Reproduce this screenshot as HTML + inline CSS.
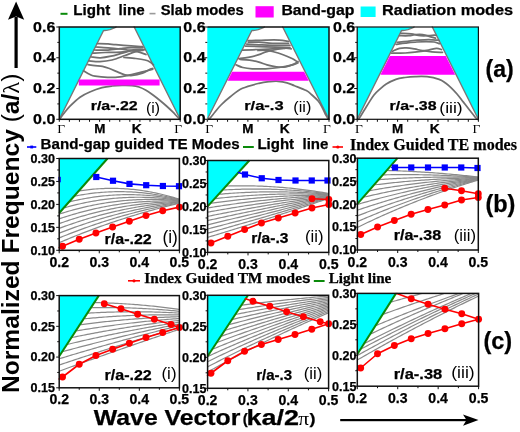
<!DOCTYPE html>
<html><head><meta charset="utf-8"><title>Band diagrams</title>
<style>
html,body{margin:0;padding:0;background:#fff;}
body{width:520px;height:432px;overflow:hidden;}
svg{display:block;}
</style></head><body>
<svg width="520" height="432" viewBox="0 0 520 432">
<rect x="0" y="0" width="520" height="432" fill="#fff"/>
<polygon points="59.30,27.00 59.30,119.30 103.55,30.48 104.83,30.45 106.11,30.34 107.38,30.15 108.66,29.89 109.94,29.56 111.22,29.16 112.49,28.69 113.77,28.15 115.05,27.54 116.07,27.00 59.30,27.00" fill="#00ffff" stroke="none" stroke-width="0"/>
<polygon points="134.21,27.00 180.20,119.30 180.20,27.00" fill="#00ffff" stroke="none" stroke-width="0"/>
<polygon points="207.30,27.00 207.30,119.30 251.85,30.48 253.13,30.45 254.42,30.34 255.70,30.15 256.99,29.89 258.27,29.56 259.56,29.16 260.85,28.69 262.13,28.15 263.42,27.54 264.45,27.00 207.30,27.00" fill="#00ffff" stroke="none" stroke-width="0"/>
<polygon points="282.71,27.00 329.00,119.30 329.00,27.00" fill="#00ffff" stroke="none" stroke-width="0"/>
<polygon points="357.20,27.00 357.20,119.30 401.56,30.48 402.84,30.45 404.12,30.34 405.40,30.15 406.68,29.89 407.97,29.56 409.25,29.16 410.53,28.69 411.81,28.15 413.09,27.54 414.11,27.00 357.20,27.00" fill="#00ffff" stroke="none" stroke-width="0"/>
<polygon points="432.30,27.00 478.40,119.30 478.40,27.00" fill="#00ffff" stroke="none" stroke-width="0"/>
<polyline points="59.30,119.30 103.55,30.48 104.83,30.45 106.11,30.34 107.38,30.15 108.66,29.89 109.94,29.56 111.22,29.16 112.49,28.69 113.77,28.15 115.05,27.54 116.07,27.00" fill="none" stroke="#777" stroke-width="1.4" stroke-linejoin="round" stroke-linecap="round"/>
<polyline points="134.21,27.00 180.20,119.30" fill="none" stroke="#777" stroke-width="1.4" stroke-linejoin="round" stroke-linecap="round"/>
<polyline points="207.30,119.30 251.85,30.48 253.13,30.45 254.42,30.34 255.70,30.15 256.99,29.89 258.27,29.56 259.56,29.16 260.85,28.69 262.13,28.15 263.42,27.54 264.45,27.00" fill="none" stroke="#777" stroke-width="1.4" stroke-linejoin="round" stroke-linecap="round"/>
<polyline points="282.71,27.00 329.00,119.30" fill="none" stroke="#777" stroke-width="1.4" stroke-linejoin="round" stroke-linecap="round"/>
<polyline points="357.20,119.30 401.56,30.48 402.84,30.45 404.12,30.34 405.40,30.15 406.68,29.89 407.97,29.56 409.25,29.16 410.53,28.69 411.81,28.15 413.09,27.54 414.11,27.00" fill="none" stroke="#777" stroke-width="1.4" stroke-linejoin="round" stroke-linecap="round"/>
<polyline points="432.30,27.00 478.40,119.30" fill="none" stroke="#777" stroke-width="1.4" stroke-linejoin="round" stroke-linecap="round"/>
<path d="M59.50,119.30 C60.18,118.38 61.85,115.98 63.60,113.80 C65.35,111.62 67.27,108.97 70.00,106.20 C72.73,103.43 76.70,99.57 80.00,97.20 C83.30,94.83 86.13,93.58 89.80,92.00 C93.47,90.42 98.30,88.70 102.00,87.70 C105.70,86.70 108.67,86.38 112.00,86.00 C115.33,85.62 118.67,85.47 122.00,85.40 C125.33,85.33 129.17,85.33 132.00,85.60 C134.83,85.87 136.67,86.23 139.00,87.00 C141.33,87.77 143.67,88.87 146.00,90.20 C148.33,91.53 150.67,93.28 153.00,95.00 C155.33,96.72 157.67,98.58 160.00,100.50 C162.33,102.42 164.83,104.55 167.00,106.50 C169.17,108.45 171.33,110.53 173.00,112.20 C174.67,113.87 175.83,115.32 177.00,116.50 C178.17,117.68 179.50,118.83 180.00,119.30" fill="none" stroke="#707070" stroke-width="1.75" stroke-linejoin="round" stroke-linecap="round"/>
<path d="M97.30,43.60 C99.08,43.65 104.92,43.72 108.00,43.90 C111.08,44.08 111.93,44.38 115.80,44.70 C119.67,45.02 127.10,45.50 131.20,45.80 C135.30,46.10 138.52,46.35 140.40,46.50 C142.28,46.65 142.15,46.67 142.50,46.70" fill="none" stroke="#707070" stroke-width="1.75" stroke-linejoin="round" stroke-linecap="round"/>
<path d="M95.80,47.00 C97.83,47.13 103.97,47.47 108.00,47.80 C112.03,48.13 116.17,48.55 120.00,49.00 C123.83,49.45 127.67,49.95 131.00,50.50 C134.33,51.05 137.50,51.63 140.00,52.30 C142.50,52.97 145.00,54.13 146.00,54.50" fill="none" stroke="#707070" stroke-width="1.75" stroke-linejoin="round" stroke-linecap="round"/>
<path d="M94.20,50.00 C96.50,50.02 103.63,50.33 108.00,50.10 C112.37,49.87 116.57,49.02 120.40,48.60 C124.23,48.18 127.23,47.77 131.00,47.60 C134.77,47.43 141.00,47.60 143.00,47.60" fill="none" stroke="#707070" stroke-width="1.75" stroke-linejoin="round" stroke-linecap="round"/>
<path d="M92.70,53.20 C94.75,53.08 101.12,52.63 105.00,52.50 C108.88,52.37 112.67,52.55 116.00,52.40 C119.33,52.25 122.50,51.97 125.00,51.60 C127.50,51.23 128.50,50.57 131.00,50.20 C133.50,49.83 137.67,49.47 140.00,49.40 C142.33,49.33 144.17,49.73 145.00,49.80" fill="none" stroke="#707070" stroke-width="1.75" stroke-linejoin="round" stroke-linecap="round"/>
<path d="M91.20,57.00 C92.73,57.13 97.10,57.93 100.40,57.80 C103.70,57.67 107.40,56.97 111.00,56.20 C114.60,55.43 118.67,54.08 122.00,53.20 C125.33,52.32 127.67,51.40 131.00,50.90 C134.33,50.40 140.17,50.32 142.00,50.20" fill="none" stroke="#707070" stroke-width="1.75" stroke-linejoin="round" stroke-linecap="round"/>
<path d="M88.80,60.80 C90.67,60.93 96.13,61.73 100.00,61.60 C103.87,61.47 107.83,61.02 112.00,60.00 C116.17,58.98 121.03,56.88 125.00,55.50 C128.97,54.12 132.80,52.57 135.80,51.70 C138.80,50.83 141.80,50.53 143.00,50.30" fill="none" stroke="#707070" stroke-width="1.75" stroke-linejoin="round" stroke-linecap="round"/>
<path d="M124.00,57.50 C125.97,57.67 132.30,58.08 135.80,58.50 C139.30,58.92 142.63,59.43 145.00,60.00 C147.37,60.57 148.58,61.07 150.00,61.90 C151.42,62.73 152.92,64.48 153.50,65.00" fill="none" stroke="#707070" stroke-width="1.75" stroke-linejoin="round" stroke-linecap="round"/>
<path d="M88.00,64.70 C89.17,64.85 92.58,65.33 95.00,65.60 C97.42,65.87 100.00,65.77 102.50,66.30 C105.00,66.83 107.50,67.87 110.00,68.80 C112.50,69.73 115.00,70.90 117.50,71.90 C120.00,72.90 122.50,74.20 125.00,74.80 C127.50,75.40 129.58,75.78 132.50,75.50 C135.42,75.22 139.58,74.12 142.50,73.10 C145.42,72.08 148.30,70.17 150.00,69.40 C151.70,68.63 152.25,68.65 152.70,68.50" fill="none" stroke="#707070" stroke-width="1.75" stroke-linejoin="round" stroke-linecap="round"/>
<path d="M83.50,70.80 C84.58,71.42 88.08,73.60 90.00,74.50 C91.92,75.40 92.08,75.72 95.00,76.20 C97.92,76.68 103.33,77.28 107.50,77.40 C111.67,77.52 115.83,77.40 120.00,76.90 C124.17,76.40 128.75,75.23 132.50,74.40 C136.25,73.57 139.58,72.63 142.50,71.90 C145.42,71.17 148.30,70.45 150.00,70.00 C151.70,69.55 152.25,69.33 152.70,69.20" fill="none" stroke="#707070" stroke-width="1.75" stroke-linejoin="round" stroke-linecap="round"/>
<path d="M208.00,119.30 C208.42,119.02 209.33,118.82 210.50,117.60 C211.67,116.38 213.25,114.10 215.00,112.00 C216.75,109.90 218.40,107.58 221.00,105.00 C223.60,102.42 227.02,99.28 230.60,96.50 C234.18,93.72 237.77,90.50 242.50,88.30 C247.23,86.10 254.42,84.42 259.00,83.30 C263.58,82.18 266.83,81.93 270.00,81.60 C273.17,81.27 275.17,81.10 278.00,81.30 C280.83,81.50 284.25,82.07 287.00,82.80 C289.75,83.53 291.28,84.40 294.50,85.70 C297.72,87.00 303.38,89.05 306.30,90.60 C309.22,92.15 310.02,93.27 312.00,95.00 C313.98,96.73 316.53,99.00 318.20,101.00 C319.87,103.00 320.82,104.83 322.00,107.00 C323.18,109.17 324.22,111.95 325.30,114.00 C326.38,116.05 327.97,118.42 328.50,119.30" fill="none" stroke="#707070" stroke-width="1.75" stroke-linejoin="round" stroke-linecap="round"/>
<path d="M248.20,40.70 C251.10,40.60 260.45,40.20 265.60,40.10 C270.75,40.00 275.28,39.88 279.10,40.10 C282.92,40.32 286.93,41.18 288.50,41.40" fill="none" stroke="#707070" stroke-width="1.75" stroke-linejoin="round" stroke-linecap="round"/>
<path d="M248.20,42.10 C249.98,42.10 254.87,41.88 258.90,42.10 C262.93,42.32 267.47,43.18 272.40,43.40 C277.33,43.62 285.82,43.40 288.50,43.40" fill="none" stroke="#707070" stroke-width="1.75" stroke-linejoin="round" stroke-linecap="round"/>
<path d="M246.80,44.10 C248.82,44.22 254.63,44.58 258.90,44.80 C263.17,45.02 267.23,45.30 272.40,45.40 C277.57,45.50 286.98,45.40 289.90,45.40" fill="none" stroke="#707070" stroke-width="1.75" stroke-linejoin="round" stroke-linecap="round"/>
<path d="M245.50,46.10 C248.85,46.22 258.20,46.57 265.60,46.80 C273.00,47.03 285.85,47.38 289.90,47.50" fill="none" stroke="#707070" stroke-width="1.75" stroke-linejoin="round" stroke-linecap="round"/>
<path d="M242.80,50.20 C245.48,50.08 253.97,49.73 258.90,49.50 C263.83,49.27 267.92,49.03 272.40,48.80 C276.88,48.57 282.67,48.10 285.80,48.10 C288.93,48.10 290.30,48.68 291.20,48.80" fill="none" stroke="#707070" stroke-width="1.75" stroke-linejoin="round" stroke-linecap="round"/>
<path d="M238.70,58.70 C240.28,58.48 244.83,58.07 248.20,57.40 C251.57,56.73 255.93,55.63 258.90,54.70 C261.87,53.77 263.08,52.67 266.00,51.80 C268.92,50.93 273.23,50.08 276.40,49.50 C279.57,48.92 283.57,48.50 285.00,48.30" fill="none" stroke="#707070" stroke-width="1.75" stroke-linejoin="round" stroke-linecap="round"/>
<path d="M258.00,50.50 C259.27,50.45 263.20,50.03 265.60,50.20 C268.00,50.37 269.48,50.75 272.40,51.50 C275.32,52.25 279.73,53.50 283.10,54.70 C286.47,55.90 290.35,57.58 292.60,58.70 C294.85,59.82 295.93,60.95 296.60,61.40" fill="none" stroke="#707070" stroke-width="1.75" stroke-linejoin="round" stroke-linecap="round"/>
<path d="M240.00,59.40 C241.58,59.52 246.35,59.65 249.50,60.10 C252.65,60.55 255.98,61.32 258.90,62.10 C261.82,62.88 264.08,64.02 267.00,64.80 C269.92,65.58 273.27,66.47 276.40,66.80 C279.53,67.13 282.88,67.25 285.80,66.80 C288.72,66.35 291.87,65.00 293.90,64.10 C295.93,63.20 297.32,61.85 298.00,61.40" fill="none" stroke="#707070" stroke-width="1.75" stroke-linejoin="round" stroke-linecap="round"/>
<path d="M236.00,64.80 C237.13,65.25 240.10,66.83 242.80,67.50 C245.50,68.17 248.40,68.58 252.20,68.80 C256.00,69.02 261.12,69.02 265.60,68.80 C270.08,68.58 274.60,68.17 279.10,67.50 C283.60,66.83 289.45,65.58 292.60,64.80 C295.75,64.02 297.10,63.13 298.00,62.80" fill="none" stroke="#707070" stroke-width="1.75" stroke-linejoin="round" stroke-linecap="round"/>
<path d="M358.50,119.30 C358.92,118.67 359.92,117.22 361.00,115.50 C362.08,113.78 363.60,111.27 365.00,109.00 C366.40,106.73 367.90,104.23 369.40,101.90 C370.90,99.57 372.40,97.00 374.00,95.00 C375.60,93.00 376.96,91.73 379.00,89.90 C381.04,88.07 383.43,85.77 386.25,84.00 C389.07,82.23 392.77,80.38 395.90,79.30 C399.02,78.22 401.80,77.95 405.00,77.50 C408.20,77.05 411.42,76.73 415.10,76.60 C418.78,76.47 423.10,76.25 427.10,76.70 C431.10,77.15 436.03,78.25 439.10,79.30 C442.17,80.35 443.48,81.58 445.50,83.00 C447.52,84.42 449.28,85.97 451.20,87.80 C453.12,89.63 455.00,91.65 457.00,94.00 C459.00,96.35 461.12,99.23 463.20,101.90 C465.28,104.57 467.50,107.45 469.50,110.00 C471.50,112.55 473.87,115.65 475.20,117.20 C476.53,118.75 477.12,118.95 477.50,119.30" fill="none" stroke="#707070" stroke-width="1.75" stroke-linejoin="round" stroke-linecap="round"/>
<path d="M400.70,33.30 C402.43,33.40 407.83,33.50 411.10,33.90 C414.37,34.30 417.42,35.40 420.30,35.70 C423.18,36.00 426.08,35.80 428.40,35.70 C430.72,35.60 432.93,35.17 434.20,35.10 C435.47,35.03 435.70,35.27 436.00,35.30" fill="none" stroke="#707070" stroke-width="1.75" stroke-linejoin="round" stroke-linecap="round"/>
<path d="M399.50,35.70 C401.05,35.70 406.10,35.90 408.80,35.70 C411.50,35.50 413.40,34.70 415.70,34.50 C418.00,34.30 420.10,34.12 422.60,34.50 C425.10,34.88 428.55,36.18 430.70,36.80 C432.85,37.42 434.70,37.97 435.50,38.20" fill="none" stroke="#707070" stroke-width="1.75" stroke-linejoin="round" stroke-linecap="round"/>
<path d="M397.20,42.40 C398.93,42.22 404.13,41.67 407.60,41.30 C411.07,40.93 414.53,40.48 418.00,40.20 C421.47,39.92 425.13,39.60 428.40,39.60 C431.67,39.60 435.83,40.05 437.60,40.20 C439.37,40.35 438.77,40.45 439.00,40.50" fill="none" stroke="#707070" stroke-width="1.75" stroke-linejoin="round" stroke-linecap="round"/>
<path d="M396.10,44.30 C397.63,44.12 401.85,43.58 405.30,43.20 C408.75,42.82 413.33,42.28 416.80,42.00 C420.27,41.72 423.20,41.50 426.10,41.50 C429.00,41.50 431.97,41.63 434.20,42.00 C436.43,42.37 438.62,43.42 439.50,43.70" fill="none" stroke="#707070" stroke-width="1.75" stroke-linejoin="round" stroke-linecap="round"/>
<path d="M392.60,51.20 C393.75,50.72 397.18,48.87 399.50,48.30 C401.82,47.73 404.00,47.70 406.50,47.80 C409.00,47.90 411.82,48.42 414.50,48.90 C417.18,49.38 419.72,50.22 422.60,50.70 C425.48,51.18 428.48,51.52 431.80,51.80 C435.12,52.08 440.72,52.30 442.50,52.40" fill="none" stroke="#707070" stroke-width="1.75" stroke-linejoin="round" stroke-linecap="round"/>
<path d="M391.50,53.00 C393.80,53.00 401.08,53.20 405.30,53.00 C409.52,52.80 412.95,52.28 416.80,51.80 C420.65,51.32 425.12,50.67 428.40,50.10 C431.68,49.53 434.32,48.50 436.50,48.40 C438.68,48.30 440.67,49.32 441.50,49.50" fill="none" stroke="#707070" stroke-width="1.75" stroke-linejoin="round" stroke-linecap="round"/>
<rect x="78.80" y="79.50" width="80.80" height="6.00" fill="#ff00ff"/>
<polygon points="232.17,71.70 304.13,71.70 308.69,80.80 227.61,80.80" fill="#ff00ff" stroke="none" stroke-width="0"/>
<polygon points="389.82,56.00 445.78,56.00 455.17,74.80 380.43,74.80" fill="#ff00ff" stroke="none" stroke-width="0"/>
<rect x="59.30" y="27.00" width="120.90" height="92.30" fill="none" stroke="#111" stroke-width="1.5"/>
<line x1="56.30" y1="119.30" x2="59.30" y2="119.30" stroke="#111" stroke-width="1"/>
<line x1="57.30" y1="103.92" x2="59.30" y2="103.92" stroke="#111" stroke-width="1"/>
<line x1="56.30" y1="88.53" x2="59.30" y2="88.53" stroke="#111" stroke-width="1"/>
<line x1="57.30" y1="73.15" x2="59.30" y2="73.15" stroke="#111" stroke-width="1"/>
<line x1="56.30" y1="57.77" x2="59.30" y2="57.77" stroke="#111" stroke-width="1"/>
<line x1="57.30" y1="42.38" x2="59.30" y2="42.38" stroke="#111" stroke-width="1"/>
<line x1="56.30" y1="27.00" x2="59.30" y2="27.00" stroke="#111" stroke-width="1"/>
<line x1="59.30" y1="119.30" x2="59.30" y2="121.80" stroke="#111" stroke-width="1"/>
<line x1="69.38" y1="119.30" x2="69.38" y2="121.80" stroke="#111" stroke-width="1"/>
<line x1="79.45" y1="119.30" x2="79.45" y2="121.80" stroke="#111" stroke-width="1"/>
<line x1="89.52" y1="119.30" x2="89.52" y2="121.80" stroke="#111" stroke-width="1"/>
<line x1="99.60" y1="119.30" x2="99.60" y2="121.80" stroke="#111" stroke-width="1"/>
<line x1="109.67" y1="119.30" x2="109.67" y2="121.80" stroke="#111" stroke-width="1"/>
<line x1="119.75" y1="119.30" x2="119.75" y2="121.80" stroke="#111" stroke-width="1"/>
<line x1="129.82" y1="119.30" x2="129.82" y2="121.80" stroke="#111" stroke-width="1"/>
<line x1="139.90" y1="119.30" x2="139.90" y2="121.80" stroke="#111" stroke-width="1"/>
<line x1="149.97" y1="119.30" x2="149.97" y2="121.80" stroke="#111" stroke-width="1"/>
<line x1="160.05" y1="119.30" x2="160.05" y2="121.80" stroke="#111" stroke-width="1"/>
<line x1="170.12" y1="119.30" x2="170.12" y2="121.80" stroke="#111" stroke-width="1"/>
<line x1="180.20" y1="119.30" x2="180.20" y2="121.80" stroke="#111" stroke-width="1"/>
<path d="M207.30,27.00 H329.00 V119.30 H208.00" fill="none" stroke="#111" stroke-width="1.5"/>
<line x1="204.30" y1="119.30" x2="207.30" y2="119.30" stroke="#111" stroke-width="1"/>
<line x1="205.30" y1="103.92" x2="207.30" y2="103.92" stroke="#111" stroke-width="1"/>
<line x1="204.30" y1="88.53" x2="207.30" y2="88.53" stroke="#111" stroke-width="1"/>
<line x1="205.30" y1="73.15" x2="207.30" y2="73.15" stroke="#111" stroke-width="1"/>
<line x1="204.30" y1="57.77" x2="207.30" y2="57.77" stroke="#111" stroke-width="1"/>
<line x1="205.30" y1="42.38" x2="207.30" y2="42.38" stroke="#111" stroke-width="1"/>
<line x1="204.30" y1="27.00" x2="207.30" y2="27.00" stroke="#111" stroke-width="1"/>
<line x1="207.30" y1="119.30" x2="207.30" y2="121.80" stroke="#111" stroke-width="1"/>
<line x1="217.44" y1="119.30" x2="217.44" y2="121.80" stroke="#111" stroke-width="1"/>
<line x1="227.58" y1="119.30" x2="227.58" y2="121.80" stroke="#111" stroke-width="1"/>
<line x1="237.73" y1="119.30" x2="237.73" y2="121.80" stroke="#111" stroke-width="1"/>
<line x1="247.87" y1="119.30" x2="247.87" y2="121.80" stroke="#111" stroke-width="1"/>
<line x1="258.01" y1="119.30" x2="258.01" y2="121.80" stroke="#111" stroke-width="1"/>
<line x1="268.15" y1="119.30" x2="268.15" y2="121.80" stroke="#111" stroke-width="1"/>
<line x1="278.29" y1="119.30" x2="278.29" y2="121.80" stroke="#111" stroke-width="1"/>
<line x1="288.43" y1="119.30" x2="288.43" y2="121.80" stroke="#111" stroke-width="1"/>
<line x1="298.57" y1="119.30" x2="298.57" y2="121.80" stroke="#111" stroke-width="1"/>
<line x1="308.72" y1="119.30" x2="308.72" y2="121.80" stroke="#111" stroke-width="1"/>
<line x1="318.86" y1="119.30" x2="318.86" y2="121.80" stroke="#111" stroke-width="1"/>
<line x1="329.00" y1="119.30" x2="329.00" y2="121.80" stroke="#111" stroke-width="1"/>
<rect x="357.20" y="27.00" width="121.20" height="92.30" fill="none" stroke="#111" stroke-width="1.2"/>
<line x1="354.20" y1="119.30" x2="357.20" y2="119.30" stroke="#111" stroke-width="1"/>
<line x1="355.20" y1="103.92" x2="357.20" y2="103.92" stroke="#111" stroke-width="1"/>
<line x1="354.20" y1="88.53" x2="357.20" y2="88.53" stroke="#111" stroke-width="1"/>
<line x1="355.20" y1="73.15" x2="357.20" y2="73.15" stroke="#111" stroke-width="1"/>
<line x1="354.20" y1="57.77" x2="357.20" y2="57.77" stroke="#111" stroke-width="1"/>
<line x1="355.20" y1="42.38" x2="357.20" y2="42.38" stroke="#111" stroke-width="1"/>
<line x1="354.20" y1="27.00" x2="357.20" y2="27.00" stroke="#111" stroke-width="1"/>
<line x1="357.20" y1="119.30" x2="357.20" y2="121.80" stroke="#111" stroke-width="1"/>
<line x1="367.30" y1="119.30" x2="367.30" y2="121.80" stroke="#111" stroke-width="1"/>
<line x1="377.40" y1="119.30" x2="377.40" y2="121.80" stroke="#111" stroke-width="1"/>
<line x1="387.50" y1="119.30" x2="387.50" y2="121.80" stroke="#111" stroke-width="1"/>
<line x1="397.60" y1="119.30" x2="397.60" y2="121.80" stroke="#111" stroke-width="1"/>
<line x1="407.70" y1="119.30" x2="407.70" y2="121.80" stroke="#111" stroke-width="1"/>
<line x1="417.80" y1="119.30" x2="417.80" y2="121.80" stroke="#111" stroke-width="1"/>
<line x1="427.90" y1="119.30" x2="427.90" y2="121.80" stroke="#111" stroke-width="1"/>
<line x1="438.00" y1="119.30" x2="438.00" y2="121.80" stroke="#111" stroke-width="1"/>
<line x1="448.10" y1="119.30" x2="448.10" y2="121.80" stroke="#111" stroke-width="1"/>
<line x1="458.20" y1="119.30" x2="458.20" y2="121.80" stroke="#111" stroke-width="1"/>
<line x1="468.30" y1="119.30" x2="468.30" y2="121.80" stroke="#111" stroke-width="1"/>
<line x1="478.40" y1="119.30" x2="478.40" y2="121.80" stroke="#111" stroke-width="1"/>
<clipPath id="c384_0"><rect x="59.20" y="158.50" width="120.20" height="91.80"/></clipPath>
<clipPath id="c384_1"><rect x="207.60" y="160.50" width="121.20" height="91.90"/></clipPath>
<clipPath id="c384_2"><rect x="357.40" y="158.20" width="120.90" height="91.80"/></clipPath>
<clipPath id="c960_0"><rect x="59.20" y="295.60" width="120.20" height="92.20"/></clipPath>
<clipPath id="c960_1"><rect x="207.60" y="295.30" width="121.00" height="93.00"/></clipPath>
<clipPath id="c960_2"><rect x="357.30" y="293.40" width="121.30" height="92.80"/></clipPath>
<polygon points="59.20,158.50 59.20,213.00 107.50,158.50" fill="#00ffff" stroke="none" stroke-width="0"/>
<polygon points="59.20,295.60 59.20,356.30 98.80,295.60" fill="#00ffff" stroke="none" stroke-width="0"/>
<polygon points="207.60,160.50 207.60,206.30 249.30,160.50" fill="#00ffff" stroke="none" stroke-width="0"/>
<polygon points="207.60,295.30 207.60,356.30 248.00,295.30" fill="#00ffff" stroke="none" stroke-width="0"/>
<polygon points="357.40,158.20 357.40,203.80 397.50,158.20" fill="#00ffff" stroke="none" stroke-width="0"/>
<polygon points="357.30,293.40 357.30,354.30 396.00,293.40" fill="#00ffff" stroke="none" stroke-width="0"/>
<polyline points="79.23,190.91 81.24,190.61 83.24,190.32 85.24,190.06 87.25,189.81 89.25,189.59 91.25,189.38 93.26,189.19 95.26,189.02 97.26,188.87 99.27,188.74 101.27,188.63 103.27,188.54 105.28,188.47 107.28,188.42 109.28,188.38 111.29,188.37 113.29,188.37 115.29,188.40 117.30,188.44 119.30,188.50 121.30,188.58 123.31,188.68 125.31,188.80 127.31,188.94 129.32,189.10 131.32,189.28 133.32,189.47 135.33,189.69 137.33,189.92 139.33,190.18 141.34,190.45 143.34,190.74 145.34,191.06 147.35,191.39 149.35,191.74 151.35,192.11 153.36,192.50 155.36,192.90 157.36,193.33 159.37,193.78 161.37,194.24 163.37,194.73 165.38,195.23 167.38,195.76 169.38,196.30 171.39,196.86 173.39,197.44 175.39,198.04 177.40,198.66 179.40,199.30" fill="none" stroke="#8a8a8a" stroke-width="1.2" stroke-linejoin="round" stroke-linecap="round" clip-path="url(#c384_0)"/>
<polyline points="75.23,196.02 77.23,195.64 79.23,195.27 81.24,194.92 83.24,194.58 85.24,194.27 87.25,193.97 89.25,193.69 91.25,193.43 93.26,193.18 95.26,192.96 97.26,192.75 99.27,192.56 101.27,192.39 103.27,192.23 105.28,192.10 107.28,191.98 109.28,191.88 111.29,191.80 113.29,191.73 115.29,191.69 117.30,191.66 119.30,191.65 121.30,191.66 123.31,191.68 125.31,191.73 127.31,191.79 129.32,191.87 131.32,191.97 133.32,192.08 135.33,192.22 137.33,192.37 139.33,192.54 141.34,192.72 143.34,192.93 145.34,193.15 147.35,193.39 149.35,193.65 151.35,193.93 153.36,194.23 155.36,194.54 157.36,194.87 159.37,195.22 161.37,195.59 163.37,195.97 165.38,196.38 167.38,196.80 169.38,197.24 171.39,197.69 173.39,198.17 175.39,198.66 177.40,199.17 179.40,199.70" fill="none" stroke="#8a8a8a" stroke-width="1.2" stroke-linejoin="round" stroke-linecap="round" clip-path="url(#c384_0)"/>
<polyline points="69.22,201.87 71.22,201.39 73.22,200.92 75.23,200.47 77.23,200.04 79.23,199.62 81.24,199.22 83.24,198.84 85.24,198.47 87.25,198.12 89.25,197.79 91.25,197.47 93.26,197.17 95.26,196.89 97.26,196.63 99.27,196.38 101.27,196.14 103.27,195.93 105.28,195.73 107.28,195.54 109.28,195.38 111.29,195.23 113.29,195.10 115.29,194.98 117.30,194.88 119.30,194.80 121.30,194.73 123.31,194.69 125.31,194.65 127.31,194.64 129.32,194.64 131.32,194.66 133.32,194.69 135.33,194.74 137.33,194.81 139.33,194.90 141.34,195.00 143.34,195.12 145.34,195.25 147.35,195.40 149.35,195.57 151.35,195.76 153.36,195.96 155.36,196.18 157.36,196.41 159.37,196.66 161.37,196.93 163.37,197.22 165.38,197.52 167.38,197.84 169.38,198.17 171.39,198.52 173.39,198.89 175.39,199.28 177.40,199.68 179.40,200.10" fill="none" stroke="#8a8a8a" stroke-width="1.2" stroke-linejoin="round" stroke-linecap="round" clip-path="url(#c384_0)"/>
<polyline points="65.21,207.55 67.21,206.99 69.22,206.45 71.22,205.93 73.22,205.42 75.23,204.92 77.23,204.44 79.23,203.98 81.24,203.53 83.24,203.10 85.24,202.68 87.25,202.28 89.25,201.89 91.25,201.52 93.26,201.16 95.26,200.82 97.26,200.50 99.27,200.19 101.27,199.90 103.27,199.62 105.28,199.36 107.28,199.11 109.28,198.88 111.29,198.66 113.29,198.46 115.29,198.27 117.30,198.10 119.30,197.95 121.30,197.81 123.31,197.69 125.31,197.58 127.31,197.49 129.32,197.41 131.32,197.35 133.32,197.30 135.33,197.27 137.33,197.25 139.33,197.25 141.34,197.27 143.34,197.30 145.34,197.35 147.35,197.41 149.35,197.49 151.35,197.58 153.36,197.69 155.36,197.81 157.36,197.95 159.37,198.10 161.37,198.27 163.37,198.46 165.38,198.66 167.38,198.88 169.38,199.11 171.39,199.36 173.39,199.62 175.39,199.90 177.40,200.19 179.40,200.50" fill="none" stroke="#8a8a8a" stroke-width="1.2" stroke-linejoin="round" stroke-linecap="round" clip-path="url(#c384_0)"/>
<polyline points="59.20,214.08 61.20,213.44 63.21,212.82 65.21,212.21 67.21,211.61 69.22,211.03 71.22,210.46 73.22,209.91 75.23,209.37 77.23,208.84 79.23,208.33 81.24,207.84 83.24,207.35 85.24,206.89 87.25,206.43 89.25,205.99 91.25,205.57 93.26,205.16 95.26,204.76 97.26,204.38 99.27,204.01 101.27,203.65 103.27,203.31 105.28,202.99 107.28,202.67 109.28,202.38 111.29,202.09 113.29,201.82 115.29,201.57 117.30,201.33 119.30,201.10 121.30,200.89 123.31,200.69 125.31,200.50 127.31,200.33 129.32,200.18 131.32,200.04 133.32,199.91 135.33,199.80 137.33,199.70 139.33,199.61 141.34,199.54 143.34,199.49 145.34,199.44 147.35,199.42 149.35,199.40 151.35,199.40 153.36,199.42 155.36,199.45 157.36,199.49 159.37,199.55 161.37,199.62 163.37,199.70 165.38,199.80 167.38,199.92 169.38,200.05 171.39,200.19 173.39,200.34 175.39,200.52 177.40,200.70 179.40,200.90" fill="none" stroke="#8a8a8a" stroke-width="1.2" stroke-linejoin="round" stroke-linecap="round" clip-path="url(#c384_0)"/>
<polyline points="59.20,218.85 61.20,218.18 63.21,217.51 65.21,216.87 67.21,216.23 69.22,215.61 71.22,215.00 73.22,214.40 75.23,213.82 77.23,213.25 79.23,212.69 81.24,212.14 83.24,211.61 85.24,211.09 87.25,210.59 89.25,210.09 91.25,209.61 93.26,209.15 95.26,208.69 97.26,208.25 99.27,207.82 101.27,207.41 103.27,207.00 105.28,206.61 107.28,206.24 109.28,205.87 111.29,205.52 113.29,205.19 115.29,204.86 117.30,204.55 119.30,204.25 121.30,203.96 123.31,203.69 125.31,203.43 127.31,203.18 129.32,202.95 131.32,202.73 133.32,202.52 135.33,202.32 137.33,202.14 139.33,201.97 141.34,201.82 143.34,201.67 145.34,201.54 147.35,201.42 149.35,201.32 151.35,201.23 153.36,201.15 155.36,201.08 157.36,201.03 159.37,200.99 161.37,200.96 163.37,200.95 165.38,200.95 167.38,200.96 169.38,200.98 171.39,201.02 173.39,201.07 175.39,201.13 177.40,201.21 179.40,201.30" fill="none" stroke="#8a8a8a" stroke-width="1.2" stroke-linejoin="round" stroke-linecap="round" clip-path="url(#c384_0)"/>
<polyline points="59.20,223.62 61.20,222.91 63.21,222.21 65.21,221.52 67.21,220.85 69.22,220.19 71.22,219.53 73.22,218.89 75.23,218.27 77.23,217.65 79.23,217.04 81.24,216.45 83.24,215.87 85.24,215.30 87.25,214.74 89.25,214.19 91.25,213.66 93.26,213.14 95.26,212.63 97.26,212.13 99.27,211.64 101.27,211.16 103.27,210.70 105.28,210.24 107.28,209.80 109.28,209.37 111.29,208.95 113.29,208.55 115.29,208.15 117.30,207.77 119.30,207.40 121.30,207.04 123.31,206.69 125.31,206.36 127.31,206.03 129.32,205.72 131.32,205.42 133.32,205.13 135.33,204.85 137.33,204.59 139.33,204.33 141.34,204.09 143.34,203.86 145.34,203.64 147.35,203.43 149.35,203.23 151.35,203.05 153.36,202.88 155.36,202.72 157.36,202.57 159.37,202.43 161.37,202.31 163.37,202.19 165.38,202.09 167.38,202.00 169.38,201.92 171.39,201.85 173.39,201.80 175.39,201.75 177.40,201.72 179.40,201.70" fill="none" stroke="#8a8a8a" stroke-width="1.2" stroke-linejoin="round" stroke-linecap="round" clip-path="url(#c384_0)"/>
<polyline points="59.20,228.39 61.20,227.64 63.21,226.91 65.21,226.18 67.21,225.47 69.22,224.76 71.22,224.07 73.22,223.39 75.23,222.71 77.23,222.05 79.23,221.40 81.24,220.76 83.24,220.13 85.24,219.51 87.25,218.90 89.25,218.30 91.25,217.71 93.26,217.13 95.26,216.56 97.26,216.00 99.27,215.45 101.27,214.92 103.27,214.39 105.28,213.87 107.28,213.37 109.28,212.87 111.29,212.39 113.29,211.91 115.29,211.45 117.30,210.99 119.30,210.55 121.30,210.12 123.31,209.69 125.31,209.28 127.31,208.88 129.32,208.49 131.32,208.11 133.32,207.74 135.33,207.38 137.33,207.03 139.33,206.69 141.34,206.36 143.34,206.04 145.34,205.74 147.35,205.44 149.35,205.15 151.35,204.87 153.36,204.61 155.36,204.35 157.36,204.11 159.37,203.87 161.37,203.65 163.37,203.44 165.38,203.23 167.38,203.04 169.38,202.86 171.39,202.68 173.39,202.52 175.39,202.37 177.40,202.23 179.40,202.10" fill="none" stroke="#8a8a8a" stroke-width="1.2" stroke-linejoin="round" stroke-linecap="round" clip-path="url(#c384_0)"/>
<polyline points="59.20,233.16 61.20,232.38 63.21,231.61 65.21,230.84 67.21,230.09 69.22,229.34 71.22,228.61 73.22,227.88 75.23,227.16 77.23,226.45 79.23,225.76 81.24,225.07 83.24,224.38 85.24,223.71 87.25,223.05 89.25,222.40 91.25,221.75 93.26,221.12 95.26,220.49 97.26,219.88 99.27,219.27 101.27,218.67 103.27,218.08 105.28,217.50 107.28,216.93 109.28,216.37 111.29,215.82 113.29,215.27 115.29,214.74 117.30,214.22 119.30,213.70 121.30,213.19 123.31,212.70 125.31,212.21 127.31,211.73 129.32,211.26 131.32,210.80 133.32,210.35 135.33,209.91 137.33,209.47 139.33,209.05 141.34,208.63 143.34,208.23 145.34,207.83 147.35,207.45 149.35,207.07 151.35,206.70 153.36,206.34 155.36,205.99 157.36,205.65 159.37,205.32 161.37,204.99 163.37,204.68 165.38,204.37 167.38,204.08 169.38,203.79 171.39,203.52 173.39,203.25 175.39,202.99 177.40,202.74 179.40,202.50" fill="none" stroke="#8a8a8a" stroke-width="1.2" stroke-linejoin="round" stroke-linecap="round" clip-path="url(#c384_0)"/>
<polyline points="59.20,237.93 61.20,237.11 63.21,236.30 65.21,235.50 67.21,234.71 69.22,233.92 71.22,233.14 73.22,232.37 75.23,231.61 77.23,230.86 79.23,230.11 81.24,229.37 83.24,228.64 85.24,227.92 87.25,227.21 89.25,226.50 91.25,225.80 93.26,225.11 95.26,224.43 97.26,223.75 99.27,223.08 101.27,222.43 103.27,221.77 105.28,221.13 107.28,220.50 109.28,219.87 111.29,219.25 113.29,218.64 115.29,218.03 117.30,217.44 119.30,216.85 121.30,216.27 123.31,215.70 125.31,215.13 127.31,214.58 129.32,214.03 131.32,213.49 133.32,212.96 135.33,212.43 137.33,211.92 139.33,211.41 141.34,210.91 143.34,210.41 145.34,209.93 147.35,209.45 149.35,208.98 151.35,208.52 153.36,208.07 155.36,207.62 157.36,207.19 159.37,206.76 161.37,206.34 163.37,205.92 165.38,205.52 167.38,205.12 169.38,204.73 171.39,204.35 173.39,203.97 175.39,203.61 177.40,203.25 179.40,202.90" fill="none" stroke="#8a8a8a" stroke-width="1.2" stroke-linejoin="round" stroke-linecap="round" clip-path="url(#c384_0)"/>
<polyline points="59.20,242.70 61.20,241.85 63.21,241.00 65.21,240.16 67.21,239.33 69.22,238.50 71.22,237.68 73.22,236.87 75.23,236.06 77.23,235.26 79.23,234.47 81.24,233.68 83.24,232.90 85.24,232.13 87.25,231.36 89.25,230.60 91.25,229.85 93.26,229.10 95.26,228.36 97.26,227.63 99.27,226.90 101.27,226.18 103.27,225.47 105.28,224.76 107.28,224.06 109.28,223.37 111.29,222.68 113.29,222.00 115.29,221.33 117.30,220.66 119.30,220.00 121.30,219.35 123.31,218.70 125.31,218.06 127.31,217.43 129.32,216.80 131.32,216.18 133.32,215.57 135.33,214.96 137.33,214.36 139.33,213.77 141.34,213.18 143.34,212.60 145.34,212.03 147.35,211.46 149.35,210.90 151.35,210.35 153.36,209.80 155.36,209.26 157.36,208.73 159.37,208.20 161.37,207.68 163.37,207.17 165.38,206.66 167.38,206.16 169.38,205.67 171.39,205.18 173.39,204.70 175.39,204.23 177.40,203.76 179.40,203.30" fill="none" stroke="#8a8a8a" stroke-width="1.2" stroke-linejoin="round" stroke-linecap="round" clip-path="url(#c384_0)"/>
<polyline points="225.78,186.06 227.80,186.00 229.82,185.95 231.84,185.90 233.86,185.86 235.88,185.83 237.90,185.81 239.92,185.80 241.94,185.80 243.96,185.80 245.98,185.81 248.00,185.83 250.02,185.86 252.04,185.90 254.06,185.95 256.08,186.00 258.10,186.06 260.12,186.13 262.14,186.21 264.16,186.30 266.18,186.40 268.20,186.50 270.22,186.61 272.24,186.73 274.26,186.86 276.28,187.00 278.30,187.15 280.32,187.30 282.34,187.46 284.36,187.63 286.38,187.81 288.40,188.00 290.42,188.20 292.44,188.40 294.46,188.61 296.48,188.83 298.50,189.06 300.52,189.30 302.54,189.55 304.56,189.80 306.58,190.06 308.60,190.33 310.62,190.61 312.64,190.90 314.66,191.20 316.68,191.50 318.70,191.81 320.72,192.13 322.74,192.46 324.76,192.80 326.78,193.15 328.80,193.50" fill="none" stroke="#8a8a8a" stroke-width="1.2" stroke-linejoin="round" stroke-linecap="round" clip-path="url(#c384_1)"/>
<polyline points="223.76,190.00 225.78,189.88 227.80,189.77 229.82,189.67 231.84,189.58 233.86,189.49 235.88,189.41 237.90,189.34 239.92,189.28 241.94,189.22 243.96,189.17 245.98,189.13 248.00,189.10 250.02,189.07 252.04,189.05 254.06,189.04 256.08,189.04 258.10,189.04 260.12,189.05 262.14,189.07 264.16,189.10 266.18,189.13 268.20,189.17 270.22,189.22 272.24,189.28 274.26,189.34 276.28,189.41 278.30,189.49 280.32,189.58 282.34,189.67 284.36,189.77 286.38,189.88 288.40,190.00 290.42,190.12 292.44,190.25 294.46,190.39 296.48,190.54 298.50,190.69 300.52,190.85 302.54,191.02 304.56,191.20 306.58,191.38 308.60,191.57 310.62,191.77 312.64,191.98 314.66,192.19 316.68,192.41 318.70,192.64 320.72,192.88 322.74,193.12 324.76,193.37 326.78,193.63 328.80,193.90" fill="none" stroke="#8a8a8a" stroke-width="1.2" stroke-linejoin="round" stroke-linecap="round" clip-path="url(#c384_1)"/>
<polyline points="219.72,194.21 221.74,194.03 223.76,193.86 225.78,193.70 227.80,193.54 229.82,193.40 231.84,193.25 233.86,193.12 235.88,192.99 237.90,192.87 239.92,192.75 241.94,192.64 243.96,192.54 245.98,192.45 248.00,192.36 250.02,192.28 252.04,192.20 254.06,192.13 256.08,192.07 258.10,192.02 260.12,191.97 262.14,191.93 264.16,191.89 266.18,191.86 268.20,191.84 270.22,191.83 272.24,191.82 274.26,191.82 276.28,191.82 278.30,191.83 280.32,191.85 282.34,191.88 284.36,191.91 286.38,191.95 288.40,191.99 290.42,192.04 292.44,192.10 294.46,192.17 296.48,192.24 298.50,192.32 300.52,192.40 302.54,192.49 304.56,192.59 306.58,192.70 308.60,192.81 310.62,192.93 312.64,193.06 314.66,193.19 316.68,193.33 318.70,193.47 320.72,193.62 322.74,193.78 324.76,193.95 326.78,194.12 328.80,194.30" fill="none" stroke="#8a8a8a" stroke-width="1.2" stroke-linejoin="round" stroke-linecap="round" clip-path="url(#c384_1)"/>
<polyline points="215.68,198.62 217.70,198.38 219.72,198.16 221.74,197.94 223.76,197.73 225.78,197.52 227.80,197.32 229.82,197.12 231.84,196.93 233.86,196.75 235.88,196.57 237.90,196.40 239.92,196.23 241.94,196.07 243.96,195.91 245.98,195.76 248.00,195.62 250.02,195.48 252.04,195.35 254.06,195.23 256.08,195.11 258.10,194.99 260.12,194.88 262.14,194.78 264.16,194.69 266.18,194.59 268.20,194.51 270.22,194.43 272.24,194.36 274.26,194.29 276.28,194.23 278.30,194.17 280.32,194.13 282.34,194.08 284.36,194.04 286.38,194.01 288.40,193.99 290.42,193.97 292.44,193.95 294.46,193.94 296.48,193.94 298.50,193.94 300.52,193.95 302.54,193.97 304.56,193.99 306.58,194.02 308.60,194.05 310.62,194.09 312.64,194.13 314.66,194.18 316.68,194.24 318.70,194.30 320.72,194.37 322.74,194.44 324.76,194.52 326.78,194.61 328.80,194.70" fill="none" stroke="#8a8a8a" stroke-width="1.2" stroke-linejoin="round" stroke-linecap="round" clip-path="url(#c384_1)"/>
<polyline points="211.64,203.22 213.66,202.93 215.68,202.66 217.70,202.38 219.72,202.11 221.74,201.85 223.76,201.59 225.78,201.34 227.80,201.09 229.82,200.85 231.84,200.61 233.86,200.37 235.88,200.15 237.90,199.92 239.92,199.70 241.94,199.49 243.96,199.28 245.98,199.08 248.00,198.88 250.02,198.69 252.04,198.50 254.06,198.32 256.08,198.14 258.10,197.97 260.12,197.80 262.14,197.64 264.16,197.48 266.18,197.33 268.20,197.18 270.22,197.04 272.24,196.90 274.26,196.77 276.28,196.64 278.30,196.52 280.32,196.40 282.34,196.29 284.36,196.18 286.38,196.08 288.40,195.98 290.42,195.89 292.44,195.80 294.46,195.72 296.48,195.64 298.50,195.57 300.52,195.51 302.54,195.44 304.56,195.39 306.58,195.34 308.60,195.29 310.62,195.25 312.64,195.21 314.66,195.18 316.68,195.15 318.70,195.13 320.72,195.12 322.74,195.10 324.76,195.10 326.78,195.10 328.80,195.10" fill="none" stroke="#8a8a8a" stroke-width="1.2" stroke-linejoin="round" stroke-linecap="round" clip-path="url(#c384_1)"/>
<polyline points="207.60,208.00 209.62,207.67 211.64,207.34 213.66,207.01 215.68,206.69 217.70,206.38 219.72,206.07 221.74,205.76 223.76,205.46 225.78,205.16 227.80,204.86 229.82,204.57 231.84,204.28 233.86,204.00 235.88,203.72 237.90,203.45 239.92,203.18 241.94,202.92 243.96,202.65 245.98,202.40 248.00,202.14 250.02,201.90 252.04,201.65 254.06,201.41 256.08,201.18 258.10,200.94 260.12,200.72 262.14,200.49 264.16,200.28 266.18,200.06 268.20,199.85 270.22,199.64 272.24,199.44 274.26,199.24 276.28,199.05 278.30,198.86 280.32,198.68 282.34,198.50 284.36,198.32 286.38,198.15 288.40,197.98 290.42,197.81 292.44,197.65 294.46,197.50 296.48,197.35 298.50,197.20 300.52,197.06 302.54,196.92 304.56,196.78 306.58,196.65 308.60,196.53 310.62,196.41 312.64,196.29 314.66,196.18 316.68,196.07 318.70,195.96 320.72,195.86 322.74,195.76 324.76,195.67 326.78,195.58 328.80,195.50" fill="none" stroke="#8a8a8a" stroke-width="1.2" stroke-linejoin="round" stroke-linecap="round" clip-path="url(#c384_1)"/>
<polyline points="207.60,212.20 209.62,211.83 211.64,211.46 213.66,211.09 215.68,210.73 217.70,210.37 219.72,210.02 221.74,209.67 223.76,209.32 225.78,208.97 227.80,208.63 229.82,208.30 231.84,207.96 233.86,207.63 235.88,207.30 237.90,206.98 239.92,206.66 241.94,206.34 243.96,206.02 245.98,205.71 248.00,205.41 250.02,205.10 252.04,204.80 254.06,204.50 256.08,204.21 258.10,203.92 260.12,203.63 262.14,203.35 264.16,203.07 266.18,202.79 268.20,202.52 270.22,202.25 272.24,201.98 274.26,201.72 276.28,201.46 278.30,201.20 280.32,200.95 282.34,200.70 284.36,200.46 286.38,200.21 288.40,199.97 290.42,199.74 292.44,199.50 294.46,199.28 296.48,199.05 298.50,198.83 300.52,198.61 302.54,198.39 304.56,198.18 306.58,197.97 308.60,197.77 310.62,197.56 312.64,197.37 314.66,197.17 316.68,196.98 318.70,196.79 320.72,196.61 322.74,196.42 324.76,196.25 326.78,196.07 328.80,195.90" fill="none" stroke="#8a8a8a" stroke-width="1.2" stroke-linejoin="round" stroke-linecap="round" clip-path="url(#c384_1)"/>
<polyline points="207.60,216.40 209.62,215.99 211.64,215.58 213.66,215.17 215.68,214.77 217.70,214.37 219.72,213.97 221.74,213.58 223.76,213.18 225.78,212.79 227.80,212.41 229.82,212.02 231.84,211.64 233.86,211.26 235.88,210.88 237.90,210.50 239.92,210.13 241.94,209.76 243.96,209.40 245.98,209.03 248.00,208.67 250.02,208.31 252.04,207.95 254.06,207.60 256.08,207.25 258.10,206.90 260.12,206.55 262.14,206.21 264.16,205.87 266.18,205.53 268.20,205.19 270.22,204.86 272.24,204.53 274.26,204.20 276.28,203.87 278.30,203.55 280.32,203.23 282.34,202.91 284.36,202.59 286.38,202.28 288.40,201.97 290.42,201.66 292.44,201.36 294.46,201.05 296.48,200.75 298.50,200.45 300.52,200.16 302.54,199.87 304.56,199.58 306.58,199.29 308.60,199.01 310.62,198.72 312.64,198.44 314.66,198.17 316.68,197.89 318.70,197.62 320.72,197.35 322.74,197.08 324.76,196.82 326.78,196.56 328.80,196.30" fill="none" stroke="#8a8a8a" stroke-width="1.2" stroke-linejoin="round" stroke-linecap="round" clip-path="url(#c384_1)"/>
<polyline points="207.60,220.60 209.62,220.15 211.64,219.70 213.66,219.25 215.68,218.81 217.70,218.37 219.72,217.93 221.74,217.49 223.76,217.05 225.78,216.61 227.80,216.18 229.82,215.75 231.84,215.31 233.86,214.89 235.88,214.46 237.90,214.03 239.92,213.61 241.94,213.19 243.96,212.77 245.98,212.35 248.00,211.93 250.02,211.52 252.04,211.10 254.06,210.69 256.08,210.28 258.10,209.87 260.12,209.47 262.14,209.06 264.16,208.66 266.18,208.26 268.20,207.86 270.22,207.46 272.24,207.07 274.26,206.67 276.28,206.28 278.30,205.89 280.32,205.50 282.34,205.11 284.36,204.73 286.38,204.35 288.40,203.96 290.42,203.58 292.44,203.21 294.46,202.83 296.48,202.46 298.50,202.08 300.52,201.71 302.54,201.34 304.56,200.97 306.58,200.61 308.60,200.24 310.62,199.88 312.64,199.52 314.66,199.16 316.68,198.81 318.70,198.45 320.72,198.10 322.74,197.74 324.76,197.39 326.78,197.05 328.80,196.70" fill="none" stroke="#8a8a8a" stroke-width="1.2" stroke-linejoin="round" stroke-linecap="round" clip-path="url(#c384_1)"/>
<polyline points="207.60,224.80 209.62,224.31 211.64,223.82 213.66,223.34 215.68,222.85 217.70,222.36 219.72,221.88 221.74,221.40 223.76,220.91 225.78,220.43 227.80,219.95 229.82,219.47 231.84,218.99 233.86,218.51 235.88,218.04 237.90,217.56 239.92,217.08 241.94,216.61 243.96,216.14 245.98,215.66 248.00,215.19 250.02,214.72 252.04,214.25 254.06,213.78 256.08,213.32 258.10,212.85 260.12,212.38 262.14,211.92 264.16,211.46 266.18,210.99 268.20,210.53 270.22,210.07 272.24,209.61 274.26,209.15 276.28,208.69 278.30,208.23 280.32,207.78 282.34,207.32 284.36,206.87 286.38,206.41 288.40,205.96 290.42,205.51 292.44,205.06 294.46,204.61 296.48,204.16 298.50,203.71 300.52,203.26 302.54,202.82 304.56,202.37 306.58,201.93 308.60,201.48 310.62,201.04 312.64,200.60 314.66,200.16 316.68,199.72 318.70,199.28 320.72,198.84 322.74,198.41 324.76,197.97 326.78,197.53 328.80,197.10" fill="none" stroke="#8a8a8a" stroke-width="1.2" stroke-linejoin="round" stroke-linecap="round" clip-path="url(#c384_1)"/>
<polyline points="207.60,229.00 209.62,228.47 211.64,227.94 213.66,227.42 215.68,226.89 217.70,226.36 219.72,225.83 221.74,225.30 223.76,224.78 225.78,224.25 227.80,223.72 229.82,223.20 231.84,222.67 233.86,222.14 235.88,221.61 237.90,221.09 239.92,220.56 241.94,220.03 243.96,219.51 245.98,218.98 248.00,218.46 250.02,217.93 252.04,217.40 254.06,216.88 256.08,216.35 258.10,215.83 260.12,215.30 262.14,214.78 264.16,214.25 266.18,213.73 268.20,213.20 270.22,212.68 272.24,212.15 274.26,211.63 276.28,211.10 278.30,210.58 280.32,210.05 282.34,209.53 284.36,209.00 286.38,208.48 288.40,207.96 290.42,207.43 292.44,206.91 294.46,206.38 296.48,205.86 298.50,205.34 300.52,204.81 302.54,204.29 304.56,203.77 306.58,203.25 308.60,202.72 310.62,202.20 312.64,201.68 314.66,201.15 316.68,200.63 318.70,200.11 320.72,199.59 322.74,199.07 324.76,198.54 326.78,198.02 328.80,197.50" fill="none" stroke="#8a8a8a" stroke-width="1.2" stroke-linejoin="round" stroke-linecap="round" clip-path="url(#c384_1)"/>
<polyline points="207.60,233.20 209.62,232.63 211.64,232.06 213.66,231.50 215.68,230.93 217.70,230.36 219.72,229.79 221.74,229.21 223.76,228.64 225.78,228.07 227.80,227.49 229.82,226.92 231.84,226.34 233.86,225.77 235.88,225.19 237.90,224.62 239.92,224.04 241.94,223.46 243.96,222.88 245.98,222.30 248.00,221.72 250.02,221.14 252.04,220.55 254.06,219.97 256.08,219.39 258.10,218.80 260.12,218.22 262.14,217.63 264.16,217.05 266.18,216.46 268.20,215.87 270.22,215.28 272.24,214.69 274.26,214.10 276.28,213.51 278.30,212.92 280.32,212.33 282.34,211.73 284.36,211.14 286.38,210.55 288.40,209.95 290.42,209.36 292.44,208.76 294.46,208.16 296.48,207.56 298.50,206.96 300.52,206.37 302.54,205.77 304.56,205.16 306.58,204.56 308.60,203.96 310.62,203.36 312.64,202.75 314.66,202.15 316.68,201.55 318.70,200.94 320.72,200.33 322.74,199.73 324.76,199.12 326.78,198.51 328.80,197.90" fill="none" stroke="#8a8a8a" stroke-width="1.2" stroke-linejoin="round" stroke-linecap="round" clip-path="url(#c384_1)"/>
<polyline points="207.60,237.40 209.62,236.79 211.64,236.19 213.66,235.58 215.68,234.97 217.70,234.35 219.72,233.74 221.74,233.12 223.76,232.51 225.78,231.89 227.80,231.27 229.82,230.64 231.84,230.02 233.86,229.40 235.88,228.77 237.90,228.14 239.92,227.51 241.94,226.88 243.96,226.25 245.98,225.62 248.00,224.98 250.02,224.34 252.04,223.70 254.06,223.06 256.08,222.42 258.10,221.78 260.12,221.13 262.14,220.49 264.16,219.84 266.18,219.19 268.20,218.54 270.22,217.89 272.24,217.23 274.26,216.58 276.28,215.92 278.30,215.26 280.32,214.60 282.34,213.94 284.36,213.28 286.38,212.61 288.40,211.95 290.42,211.28 292.44,210.61 294.46,209.94 296.48,209.27 298.50,208.59 300.52,207.92 302.54,207.24 304.56,206.56 306.58,205.88 308.60,205.20 310.62,204.52 312.64,203.83 314.66,203.15 316.68,202.46 318.70,201.77 320.72,201.08 322.74,200.39 324.76,199.69 326.78,199.00 328.80,198.30" fill="none" stroke="#8a8a8a" stroke-width="1.2" stroke-linejoin="round" stroke-linecap="round" clip-path="url(#c384_1)"/>
<polyline points="387.62,170.48 389.64,170.54 391.65,170.60 393.67,170.67 395.69,170.75 397.70,170.82 399.71,170.90 401.73,170.99 403.75,171.08 405.76,171.17 407.77,171.26 409.79,171.36 411.81,171.47 413.82,171.57 415.83,171.69 417.85,171.80 419.87,171.92 421.88,172.04 423.89,172.17 425.91,172.30 427.93,172.43 429.94,172.57 431.95,172.71 433.97,172.85 435.99,173.00 438.00,173.16 440.01,173.31 442.03,173.47 444.05,173.64 446.06,173.80 448.07,173.98 450.09,174.15 452.11,174.33 454.12,174.51 456.13,174.70 458.15,174.89 460.17,175.08 462.18,175.28 464.19,175.48 466.21,175.69 468.23,175.90 470.24,176.11 472.25,176.33 474.27,176.55 476.29,176.77 478.30,177.00" fill="none" stroke="#8a8a8a" stroke-width="1.2" stroke-linejoin="round" stroke-linecap="round" clip-path="url(#c384_2)"/>
<polyline points="383.59,174.84 385.61,174.80 387.62,174.76 389.64,174.73 391.65,174.70 393.67,174.68 395.69,174.66 397.70,174.64 399.71,174.63 401.73,174.62 403.75,174.62 405.76,174.62 407.77,174.62 409.79,174.63 411.81,174.64 413.82,174.66 415.83,174.68 417.85,174.70 419.87,174.73 421.88,174.76 423.89,174.80 425.91,174.84 427.93,174.88 429.94,174.93 431.95,174.98 433.97,175.04 435.99,175.10 438.00,175.16 440.01,175.23 442.03,175.30 444.05,175.38 446.06,175.46 448.07,175.55 450.09,175.63 452.11,175.73 454.12,175.82 456.13,175.92 458.15,176.03 460.17,176.14 462.18,176.25 464.19,176.37 466.21,176.49 468.23,176.61 470.24,176.74 472.25,176.88 474.27,177.01 476.29,177.15 478.30,177.30" fill="none" stroke="#8a8a8a" stroke-width="1.2" stroke-linejoin="round" stroke-linecap="round" clip-path="url(#c384_2)"/>
<polyline points="379.56,179.61 381.58,179.46 383.59,179.32 385.61,179.19 387.62,179.06 389.64,178.93 391.65,178.80 393.67,178.69 395.69,178.57 397.70,178.46 399.71,178.36 401.73,178.26 403.75,178.16 405.76,178.07 407.77,177.98 409.79,177.89 411.81,177.81 413.82,177.74 415.83,177.67 417.85,177.60 419.87,177.54 421.88,177.48 423.89,177.43 425.91,177.38 427.93,177.33 429.94,177.29 431.95,177.25 433.97,177.22 435.99,177.19 438.00,177.17 440.01,177.15 442.03,177.13 444.05,177.12 446.06,177.12 448.07,177.12 450.09,177.12 452.11,177.12 454.12,177.13 456.13,177.15 458.15,177.17 460.17,177.19 462.18,177.22 464.19,177.25 466.21,177.29 468.23,177.33 470.24,177.38 472.25,177.43 474.27,177.48 476.29,177.54 478.30,177.60" fill="none" stroke="#8a8a8a" stroke-width="1.2" stroke-linejoin="round" stroke-linecap="round" clip-path="url(#c384_2)"/>
<polyline points="375.53,184.77 377.55,184.52 379.56,184.28 381.58,184.04 383.59,183.80 385.61,183.57 387.62,183.34 389.64,183.12 391.65,182.91 393.67,182.69 395.69,182.49 397.70,182.28 399.71,182.08 401.73,181.89 403.75,181.70 405.76,181.51 407.77,181.33 409.79,181.16 411.81,180.99 413.82,180.82 415.83,180.66 417.85,180.50 419.87,180.35 421.88,180.20 423.89,180.05 425.91,179.92 427.93,179.78 429.94,179.65 431.95,179.52 433.97,179.40 435.99,179.29 438.00,179.18 440.01,179.07 442.03,178.97 444.05,178.87 446.06,178.77 448.07,178.69 450.09,178.60 452.11,178.52 454.12,178.45 456.13,178.37 458.15,178.31 460.17,178.25 462.18,178.19 464.19,178.14 466.21,178.09 468.23,178.05 470.24,178.01 472.25,177.97 474.27,177.95 476.29,177.92 478.30,177.90" fill="none" stroke="#8a8a8a" stroke-width="1.2" stroke-linejoin="round" stroke-linecap="round" clip-path="url(#c384_2)"/>
<polyline points="369.49,190.70 371.50,190.34 373.52,189.98 375.53,189.63 377.55,189.29 379.56,188.95 381.58,188.61 383.59,188.28 385.61,187.96 387.62,187.64 389.64,187.32 391.65,187.01 393.67,186.70 395.69,186.40 397.70,186.10 399.71,185.81 401.73,185.52 403.75,185.24 405.76,184.96 407.77,184.69 409.79,184.42 411.81,184.16 413.82,183.90 415.83,183.65 417.85,183.40 419.87,183.16 421.88,182.92 423.89,182.68 425.91,182.45 427.93,182.23 429.94,182.01 431.95,181.80 433.97,181.59 435.99,181.38 438.00,181.18 440.01,180.99 442.03,180.80 444.05,180.61 446.06,180.43 448.07,180.25 450.09,180.08 452.11,179.92 454.12,179.76 456.13,179.60 458.15,179.45 460.17,179.30 462.18,179.16 464.19,179.02 466.21,178.89 468.23,178.76 470.24,178.64 472.25,178.52 474.27,178.41 476.29,178.30 478.30,178.20" fill="none" stroke="#8a8a8a" stroke-width="1.2" stroke-linejoin="round" stroke-linecap="round" clip-path="url(#c384_2)"/>
<polyline points="363.44,197.25 365.46,196.78 367.47,196.31 369.49,195.85 371.50,195.40 373.52,194.94 375.53,194.50 377.55,194.06 379.56,193.62 381.58,193.19 383.59,192.76 385.61,192.34 387.62,191.93 389.64,191.51 391.65,191.11 393.67,190.71 395.69,190.31 397.70,189.92 399.71,189.54 401.73,189.16 403.75,188.78 405.76,188.41 407.77,188.05 409.79,187.69 411.81,187.33 413.82,186.98 415.83,186.64 417.85,186.30 419.87,185.97 421.88,185.64 423.89,185.31 425.91,184.99 427.93,184.68 429.94,184.37 431.95,184.07 433.97,183.77 435.99,183.48 438.00,183.19 440.01,182.91 442.03,182.63 444.05,182.36 446.06,182.09 448.07,181.82 450.09,181.57 452.11,181.32 454.12,181.07 456.13,180.83 458.15,180.59 460.17,180.36 462.18,180.13 464.19,179.91 466.21,179.69 468.23,179.48 470.24,179.27 472.25,179.07 474.27,178.88 476.29,178.69 478.30,178.50" fill="none" stroke="#8a8a8a" stroke-width="1.2" stroke-linejoin="round" stroke-linecap="round" clip-path="url(#c384_2)"/>
<polyline points="357.40,204.44 359.41,203.85 361.43,203.27 363.44,202.70 365.46,202.13 367.47,201.56 369.49,201.00 371.50,200.45 373.52,199.90 375.53,199.36 377.55,198.82 379.56,198.29 381.58,197.76 383.59,197.24 385.61,196.73 387.62,196.22 389.64,195.71 391.65,195.21 393.67,194.72 395.69,194.23 397.70,193.74 399.71,193.26 401.73,192.79 403.75,192.32 405.76,191.86 407.77,191.40 409.79,190.95 411.81,190.51 413.82,190.07 415.83,189.63 417.85,189.20 419.87,188.78 421.88,188.36 423.89,187.94 425.91,187.53 427.93,187.13 429.94,186.73 431.95,186.34 433.97,185.95 435.99,185.57 438.00,185.20 440.01,184.82 442.03,184.46 444.05,184.10 446.06,183.74 448.07,183.40 450.09,183.05 452.11,182.71 454.12,182.38 456.13,182.05 458.15,181.73 460.17,181.41 462.18,181.10 464.19,180.79 466.21,180.49 468.23,180.20 470.24,179.91 472.25,179.62 474.27,179.34 476.29,179.07 478.30,178.80" fill="none" stroke="#8a8a8a" stroke-width="1.2" stroke-linejoin="round" stroke-linecap="round" clip-path="url(#c384_2)"/>
<polyline points="357.40,210.18 359.41,209.50 361.43,208.82 363.44,208.14 365.46,207.48 367.47,206.81 369.49,206.16 371.50,205.51 373.52,204.86 375.53,204.22 377.55,203.59 379.56,202.96 381.58,202.34 383.59,201.72 385.61,201.11 387.62,200.51 389.64,199.91 391.65,199.31 393.67,198.72 395.69,198.14 397.70,197.56 399.71,196.99 401.73,196.42 403.75,195.86 405.76,195.31 407.77,194.76 409.79,194.22 411.81,193.68 413.82,193.15 415.83,192.62 417.85,192.10 419.87,191.58 421.88,191.08 423.89,190.57 425.91,190.07 427.93,189.58 429.94,189.09 431.95,188.61 433.97,188.14 435.99,187.67 438.00,187.20 440.01,186.74 442.03,186.29 444.05,185.84 446.06,185.40 448.07,184.97 450.09,184.53 452.11,184.11 454.12,183.69 456.13,183.28 458.15,182.87 460.17,182.47 462.18,182.07 464.19,181.68 466.21,181.29 468.23,180.91 470.24,180.54 472.25,180.17 474.27,179.81 476.29,179.45 478.30,179.10" fill="none" stroke="#8a8a8a" stroke-width="1.2" stroke-linejoin="round" stroke-linecap="round" clip-path="url(#c384_2)"/>
<polyline points="357.40,215.92 359.41,215.14 361.43,214.36 363.44,213.59 365.46,212.82 367.47,212.06 369.49,211.31 371.50,210.56 373.52,209.82 375.53,209.09 377.55,208.36 379.56,207.63 381.58,206.91 383.59,206.20 385.61,205.50 387.62,204.80 389.64,204.10 391.65,203.41 393.67,202.73 395.69,202.05 397.70,201.38 399.71,200.72 401.73,200.06 403.75,199.41 405.76,198.76 407.77,198.12 409.79,197.48 411.81,196.85 413.82,196.23 415.83,195.61 417.85,195.00 419.87,194.39 421.88,193.79 423.89,193.20 425.91,192.61 427.93,192.03 429.94,191.45 431.95,190.88 433.97,190.32 435.99,189.76 438.00,189.21 440.01,188.66 442.03,188.12 444.05,187.59 446.06,187.06 448.07,186.53 450.09,186.02 452.11,185.51 454.12,185.00 456.13,184.50 458.15,184.01 460.17,183.52 462.18,183.04 464.19,182.56 466.21,182.09 468.23,181.63 470.24,181.17 472.25,180.72 474.27,180.27 476.29,179.83 478.30,179.40" fill="none" stroke="#8a8a8a" stroke-width="1.2" stroke-linejoin="round" stroke-linecap="round" clip-path="url(#c384_2)"/>
<polyline points="357.40,221.66 359.41,220.78 361.43,219.90 363.44,219.03 365.46,218.17 367.47,217.31 369.49,216.46 371.50,215.62 373.52,214.78 375.53,213.95 377.55,213.12 379.56,212.30 381.58,211.49 383.59,210.68 385.61,209.88 387.62,209.08 389.64,208.30 391.65,207.51 393.67,206.74 395.69,205.97 397.70,205.20 399.71,204.44 401.73,203.69 403.75,202.95 405.76,202.21 407.77,201.47 409.79,200.75 411.81,200.03 413.82,199.31 415.83,198.60 417.85,197.90 419.87,197.20 421.88,196.51 423.89,195.83 425.91,195.15 427.93,194.48 429.94,193.82 431.95,193.16 433.97,192.50 435.99,191.86 438.00,191.22 440.01,190.58 442.03,189.95 444.05,189.33 446.06,188.71 448.07,188.10 450.09,187.50 452.11,186.90 454.12,186.31 456.13,185.73 458.15,185.15 460.17,184.58 462.18,184.01 464.19,183.45 466.21,182.90 468.23,182.35 470.24,181.81 472.25,181.27 474.27,180.74 476.29,180.22 478.30,179.70" fill="none" stroke="#8a8a8a" stroke-width="1.2" stroke-linejoin="round" stroke-linecap="round" clip-path="url(#c384_2)"/>
<polyline points="357.40,227.40 359.41,226.42 361.43,225.45 363.44,224.48 365.46,223.52 367.47,222.56 369.49,221.62 371.50,220.67 373.52,219.74 375.53,218.81 377.55,217.89 379.56,216.97 381.58,216.06 383.59,215.16 385.61,214.26 387.62,213.38 389.64,212.49 391.65,211.61 393.67,210.74 395.69,209.88 397.70,209.02 399.71,208.17 401.73,207.33 403.75,206.49 405.76,205.66 407.77,204.83 409.79,204.01 411.81,203.20 413.82,202.39 415.83,201.59 417.85,200.80 419.87,200.01 421.88,199.23 423.89,198.46 425.91,197.69 427.93,196.93 429.94,196.18 431.95,195.43 433.97,194.69 435.99,193.95 438.00,193.22 440.01,192.50 442.03,191.78 444.05,191.07 446.06,190.37 448.07,189.68 450.09,188.98 452.11,188.30 454.12,187.62 456.13,186.95 458.15,186.29 460.17,185.63 462.18,184.98 464.19,184.33 466.21,183.70 468.23,183.06 470.24,182.44 472.25,181.82 474.27,181.21 476.29,180.60 478.30,180.00" fill="none" stroke="#8a8a8a" stroke-width="1.2" stroke-linejoin="round" stroke-linecap="round" clip-path="url(#c384_2)"/>
<polyline points="95.26,302.64 97.26,302.68 99.27,302.72 101.27,302.77 103.27,302.83 105.28,302.89 107.28,302.96 109.28,303.03 111.29,303.12 113.29,303.20 115.29,303.30 117.30,303.39 119.30,303.50 121.30,303.61 123.31,303.73 125.31,303.85 127.31,303.98 129.32,304.12 131.32,304.26 133.32,304.41 135.33,304.56 137.33,304.72 139.33,304.89 141.34,305.06 143.34,305.24 145.34,305.42 147.35,305.62 149.35,305.81 151.35,306.02 153.36,306.22 155.36,306.44 157.36,306.66 159.37,306.89 161.37,307.12 163.37,307.36 165.38,307.61 167.38,307.86 169.38,308.12 171.39,308.38 173.39,308.65 175.39,308.93 177.40,309.21 179.40,309.50" fill="none" stroke="#8a8a8a" stroke-width="1.2" stroke-linejoin="round" stroke-linecap="round" clip-path="url(#c960_0)"/>
<polyline points="91.25,307.77 93.26,307.72 95.26,307.69 97.26,307.66 99.27,307.63 101.27,307.61 103.27,307.60 105.28,307.59 107.28,307.59 109.28,307.60 111.29,307.61 113.29,307.62 115.29,307.64 117.30,307.67 119.30,307.70 121.30,307.74 123.31,307.78 125.31,307.83 127.31,307.89 129.32,307.95 131.32,308.01 133.32,308.08 135.33,308.16 137.33,308.24 139.33,308.33 141.34,308.43 143.34,308.53 145.34,308.63 147.35,308.75 149.35,308.86 151.35,308.99 153.36,309.11 155.36,309.25 157.36,309.39 159.37,309.53 161.37,309.68 163.37,309.84 165.38,310.00 167.38,310.17 169.38,310.35 171.39,310.53 173.39,310.71 175.39,310.90 177.40,311.10 179.40,311.30" fill="none" stroke="#8a8a8a" stroke-width="1.2" stroke-linejoin="round" stroke-linecap="round" clip-path="url(#c960_0)"/>
<polyline points="87.25,313.18 89.25,313.06 91.25,312.95 93.26,312.84 95.26,312.74 97.26,312.64 99.27,312.54 101.27,312.46 103.27,312.37 105.28,312.30 107.28,312.22 109.28,312.16 111.29,312.10 113.29,312.04 115.29,311.99 117.30,311.94 119.30,311.90 121.30,311.86 123.31,311.83 125.31,311.81 127.31,311.79 129.32,311.77 131.32,311.76 133.32,311.76 135.33,311.76 137.33,311.77 139.33,311.78 141.34,311.79 143.34,311.82 145.34,311.84 147.35,311.88 149.35,311.91 151.35,311.96 153.36,312.00 155.36,312.06 157.36,312.11 159.37,312.18 161.37,312.25 163.37,312.32 165.38,312.40 167.38,312.48 169.38,312.57 171.39,312.67 173.39,312.77 175.39,312.87 177.40,312.98 179.40,313.10" fill="none" stroke="#8a8a8a" stroke-width="1.2" stroke-linejoin="round" stroke-linecap="round" clip-path="url(#c960_0)"/>
<polyline points="85.24,318.69 87.25,318.50 89.25,318.31 91.25,318.13 93.26,317.96 95.26,317.78 97.26,317.62 99.27,317.46 101.27,317.30 103.27,317.15 105.28,317.00 107.28,316.86 109.28,316.72 111.29,316.58 113.29,316.46 115.29,316.33 117.30,316.21 119.30,316.10 121.30,315.99 123.31,315.89 125.31,315.79 127.31,315.69 129.32,315.60 131.32,315.52 133.32,315.44 135.33,315.36 137.33,315.29 139.33,315.22 141.34,315.16 143.34,315.10 145.34,315.05 147.35,315.00 149.35,314.96 151.35,314.92 153.36,314.89 155.36,314.86 157.36,314.84 159.37,314.82 161.37,314.81 163.37,314.80 165.38,314.80 167.38,314.80 169.38,314.80 171.39,314.81 173.39,314.83 175.39,314.85 177.40,314.87 179.40,314.90" fill="none" stroke="#8a8a8a" stroke-width="1.2" stroke-linejoin="round" stroke-linecap="round" clip-path="url(#c960_0)"/>
<polyline points="81.24,324.60 83.24,324.33 85.24,324.07 87.25,323.81 89.25,323.56 91.25,323.31 93.26,323.07 95.26,322.83 97.26,322.60 99.27,322.37 101.27,322.14 103.27,321.92 105.28,321.70 107.28,321.49 109.28,321.28 111.29,321.07 113.29,320.87 115.29,320.68 117.30,320.49 119.30,320.30 121.30,320.12 123.31,319.94 125.31,319.76 127.31,319.59 129.32,319.43 131.32,319.27 133.32,319.11 135.33,318.96 137.33,318.81 139.33,318.67 141.34,318.53 143.34,318.39 145.34,318.26 147.35,318.13 149.35,318.01 151.35,317.89 153.36,317.78 155.36,317.67 157.36,317.57 159.37,317.47 161.37,317.37 163.37,317.28 165.38,317.19 167.38,317.11 169.38,317.03 171.39,316.95 173.39,316.88 175.39,316.82 177.40,316.76 179.40,316.70" fill="none" stroke="#8a8a8a" stroke-width="1.2" stroke-linejoin="round" stroke-linecap="round" clip-path="url(#c960_0)"/>
<polyline points="77.23,330.78 79.23,330.44 81.24,330.11 83.24,329.78 85.24,329.45 87.25,329.13 89.25,328.81 91.25,328.50 93.26,328.19 95.26,327.88 97.26,327.58 99.27,327.28 101.27,326.98 103.27,326.69 105.28,326.40 107.28,326.12 109.28,325.84 111.29,325.56 113.29,325.29 115.29,325.02 117.30,324.76 119.30,324.50 121.30,324.24 123.31,323.99 125.31,323.74 127.31,323.50 129.32,323.26 131.32,323.02 133.32,322.79 135.33,322.56 137.33,322.33 139.33,322.11 141.34,321.89 143.34,321.68 145.34,321.47 147.35,321.26 149.35,321.06 151.35,320.86 153.36,320.67 155.36,320.48 157.36,320.29 159.37,320.11 161.37,319.93 163.37,319.76 165.38,319.59 167.38,319.42 169.38,319.26 171.39,319.10 173.39,318.94 175.39,318.79 177.40,318.64 179.40,318.50" fill="none" stroke="#8a8a8a" stroke-width="1.2" stroke-linejoin="round" stroke-linecap="round" clip-path="url(#c960_0)"/>
<polyline points="71.22,337.65 73.22,337.24 75.23,336.83 77.23,336.42 79.23,336.02 81.24,335.62 83.24,335.23 85.24,334.84 87.25,334.45 89.25,334.06 91.25,333.68 93.26,333.30 95.26,332.93 97.26,332.56 99.27,332.19 101.27,331.82 103.27,331.46 105.28,331.11 107.28,330.75 109.28,330.40 111.29,330.05 113.29,329.71 115.29,329.37 117.30,329.03 119.30,328.70 121.30,328.37 123.31,328.04 125.31,327.72 127.31,327.40 129.32,327.08 131.32,326.77 133.32,326.46 135.33,326.16 137.33,325.85 139.33,325.56 141.34,325.26 143.34,324.97 145.34,324.68 147.35,324.39 149.35,324.11 151.35,323.83 153.36,323.56 155.36,323.29 157.36,323.02 159.37,322.76 161.37,322.49 163.37,322.24 165.38,321.98 167.38,321.73 169.38,321.48 171.39,321.24 173.39,321.00 175.39,320.76 177.40,320.53 179.40,320.30" fill="none" stroke="#8a8a8a" stroke-width="1.2" stroke-linejoin="round" stroke-linecap="round" clip-path="url(#c960_0)"/>
<polyline points="67.21,344.44 69.22,343.96 71.22,343.48 73.22,343.01 75.23,342.54 77.23,342.07 79.23,341.60 81.24,341.14 83.24,340.68 85.24,340.22 87.25,339.76 89.25,339.31 91.25,338.86 93.26,338.42 95.26,337.98 97.26,337.54 99.27,337.10 101.27,336.67 103.27,336.24 105.28,335.81 107.28,335.38 109.28,334.96 111.29,334.54 113.29,334.13 115.29,333.72 117.30,333.31 119.30,332.90 121.30,332.50 123.31,332.10 125.31,331.70 127.31,331.30 129.32,330.91 131.32,330.52 133.32,330.14 135.33,329.76 137.33,329.38 139.33,329.00 141.34,328.63 143.34,328.26 145.34,327.89 147.35,327.52 149.35,327.16 151.35,326.80 153.36,326.45 155.36,326.10 157.36,325.75 159.37,325.40 161.37,325.06 163.37,324.72 165.38,324.38 167.38,324.04 169.38,323.71 171.39,323.38 173.39,323.06 175.39,322.74 177.40,322.42 179.40,322.10" fill="none" stroke="#8a8a8a" stroke-width="1.2" stroke-linejoin="round" stroke-linecap="round" clip-path="url(#c960_0)"/>
<polyline points="63.21,351.50 65.21,350.95 67.21,350.40 69.22,349.86 71.22,349.32 73.22,348.78 75.23,348.24 77.23,347.71 79.23,347.18 81.24,346.65 83.24,346.12 85.24,345.60 87.25,345.08 89.25,344.56 91.25,344.05 93.26,343.53 95.26,343.02 97.26,342.52 99.27,342.01 101.27,341.51 103.27,341.01 105.28,340.51 107.28,340.02 109.28,339.52 111.29,339.03 113.29,338.55 115.29,338.06 117.30,337.58 119.30,337.10 121.30,336.62 123.31,336.15 125.31,335.68 127.31,335.21 129.32,334.74 131.32,334.28 133.32,333.81 135.33,333.36 137.33,332.90 139.33,332.44 141.34,331.99 143.34,331.54 145.34,331.10 147.35,330.65 149.35,330.21 151.35,329.77 153.36,329.34 155.36,328.90 157.36,328.47 159.37,328.04 161.37,327.62 163.37,327.20 165.38,326.77 167.38,326.36 169.38,325.94 171.39,325.53 173.39,325.12 175.39,324.71 177.40,324.30 179.40,323.90" fill="none" stroke="#8a8a8a" stroke-width="1.2" stroke-linejoin="round" stroke-linecap="round" clip-path="url(#c960_0)"/>
<polyline points="59.20,358.80 61.20,358.19 63.21,357.57 65.21,356.96 67.21,356.36 69.22,355.75 71.22,355.15 73.22,354.55 75.23,353.95 77.23,353.35 79.23,352.76 81.24,352.16 83.24,351.57 85.24,350.98 87.25,350.40 89.25,349.81 91.25,349.23 93.26,348.65 95.26,348.07 97.26,347.50 99.27,346.92 101.27,346.35 103.27,345.78 105.28,345.21 107.28,344.65 109.28,344.08 111.29,343.52 113.29,342.96 115.29,342.41 117.30,341.85 119.30,341.30 121.30,340.75 123.31,340.20 125.31,339.65 127.31,339.11 129.32,338.57 131.32,338.03 133.32,337.49 135.33,336.95 137.33,336.42 139.33,335.89 141.34,335.36 143.34,334.83 145.34,334.31 147.35,333.78 149.35,333.26 151.35,332.74 153.36,332.23 155.36,331.71 157.36,331.20 159.37,330.69 161.37,330.18 163.37,329.67 165.38,329.17 167.38,328.67 169.38,328.17 171.39,327.67 173.39,327.17 175.39,326.68 177.40,326.19 179.40,325.70" fill="none" stroke="#8a8a8a" stroke-width="1.2" stroke-linejoin="round" stroke-linecap="round" clip-path="url(#c960_0)"/>
<polyline points="59.20,365.00 61.20,364.33 63.21,363.65 65.21,362.98 67.21,362.31 69.22,361.65 71.22,360.98 73.22,360.32 75.23,359.65 77.23,358.99 79.23,358.33 81.24,357.68 83.24,357.02 85.24,356.37 87.25,355.71 89.25,355.06 91.25,354.41 93.26,353.77 95.26,353.12 97.26,352.48 99.27,351.83 101.27,351.19 103.27,350.55 105.28,349.92 107.28,349.28 109.28,348.65 111.29,348.01 113.29,347.38 115.29,346.75 117.30,346.13 119.30,345.50 121.30,344.88 123.31,344.25 125.31,343.63 127.31,343.01 129.32,342.40 131.32,341.78 133.32,341.17 135.33,340.55 137.33,339.94 139.33,339.33 141.34,338.73 143.34,338.12 145.34,337.52 147.35,336.91 149.35,336.31 151.35,335.71 153.36,335.12 155.36,334.52 157.36,333.93 159.37,333.33 161.37,332.74 163.37,332.15 165.38,331.57 167.38,330.98 169.38,330.40 171.39,329.81 173.39,329.23 175.39,328.65 177.40,328.08 179.40,327.50" fill="none" stroke="#8a8a8a" stroke-width="1.2" stroke-linejoin="round" stroke-linecap="round" clip-path="url(#c960_0)"/>
<polyline points="59.20,371.20 61.20,370.47 63.21,369.73 65.21,369.00 67.21,368.27 69.22,367.54 71.22,366.81 73.22,366.08 75.23,365.36 77.23,364.63 79.23,363.91 81.24,363.19 83.24,362.47 85.24,361.75 87.25,361.03 89.25,360.31 91.25,359.60 93.26,358.88 95.26,358.17 97.26,357.46 99.27,356.74 101.27,356.03 103.27,355.33 105.28,354.62 107.28,353.91 109.28,353.21 111.29,352.50 113.29,351.80 115.29,351.10 117.30,350.40 119.30,349.70 121.30,349.00 123.31,348.31 125.31,347.61 127.31,346.92 129.32,346.22 131.32,345.53 133.32,344.84 135.33,344.15 137.33,343.46 139.33,342.78 141.34,342.09 143.34,341.41 145.34,340.72 147.35,340.04 149.35,339.36 151.35,338.68 153.36,338.00 155.36,337.33 157.36,336.65 159.37,335.98 161.37,335.30 163.37,334.63 165.38,333.96 167.38,333.29 169.38,332.62 171.39,331.96 173.39,331.29 175.39,330.63 177.40,329.96 179.40,329.30" fill="none" stroke="#8a8a8a" stroke-width="1.2" stroke-linejoin="round" stroke-linecap="round" clip-path="url(#c960_0)"/>
<polyline points="241.88,305.11 243.90,304.85 245.92,304.59 247.93,304.33 249.95,304.08 251.97,303.83 253.98,303.58 256.00,303.33 258.02,303.09 260.03,302.85 262.05,302.61 264.07,302.37 266.08,302.13 268.10,301.90 270.12,301.67 272.13,301.44 274.15,301.22 276.17,300.99 278.18,300.77 280.20,300.55 282.22,300.34 284.23,300.12 286.25,299.91 288.27,299.70 290.28,299.49 292.30,299.29 294.32,299.09 296.33,298.89 298.35,298.69 300.37,298.49 302.38,298.30 304.40,298.11 306.42,297.92 308.43,297.73 310.45,297.55 312.47,297.37 314.48,297.19 316.50,297.01 318.52,296.84 320.53,296.67 322.55,296.50 324.57,296.33 326.58,296.16 328.60,296.00" fill="none" stroke="#8a8a8a" stroke-width="1.2" stroke-linejoin="round" stroke-linecap="round" clip-path="url(#c960_1)"/>
<polyline points="239.87,309.47 241.88,309.14 243.90,308.82 245.92,308.49 247.93,308.17 249.95,307.85 251.97,307.54 253.98,307.22 256.00,306.91 258.02,306.60 260.03,306.30 262.05,306.00 264.07,305.69 266.08,305.40 268.10,305.10 270.12,304.81 272.13,304.52 274.15,304.23 276.17,303.94 278.18,303.66 280.20,303.38 282.22,303.10 284.23,302.82 286.25,302.55 288.27,302.28 290.28,302.01 292.30,301.75 294.32,301.48 296.33,301.22 298.35,300.96 300.37,300.71 302.38,300.46 304.40,300.21 306.42,299.96 308.43,299.71 310.45,299.47 312.47,299.23 314.48,298.99 316.50,298.76 318.52,298.52 320.53,298.29 322.55,298.07 324.57,297.84 326.58,297.62 328.60,297.40" fill="none" stroke="#8a8a8a" stroke-width="1.2" stroke-linejoin="round" stroke-linecap="round" clip-path="url(#c960_1)"/>
<polyline points="235.83,314.37 237.85,313.97 239.87,313.58 241.88,313.18 243.90,312.79 245.92,312.40 247.93,312.01 249.95,311.63 251.97,311.25 253.98,310.87 256.00,310.50 258.02,310.12 260.03,309.75 262.05,309.39 264.07,309.02 266.08,308.66 268.10,308.30 270.12,307.94 272.13,307.59 274.15,307.24 276.17,306.89 278.18,306.55 280.20,306.20 282.22,305.86 284.23,305.53 286.25,305.19 288.27,304.86 290.28,304.53 292.30,304.20 294.32,303.88 296.33,303.56 298.35,303.24 300.37,302.93 302.38,302.61 304.40,302.30 306.42,302.00 308.43,301.69 310.45,301.39 312.47,301.09 314.48,300.80 316.50,300.50 318.52,300.21 320.53,299.92 322.55,299.64 324.57,299.36 326.58,299.08 328.60,298.80" fill="none" stroke="#8a8a8a" stroke-width="1.2" stroke-linejoin="round" stroke-linecap="round" clip-path="url(#c960_1)"/>
<polyline points="231.80,319.55 233.82,319.08 235.83,318.61 237.85,318.14 239.87,317.68 241.88,317.22 243.90,316.76 245.92,316.30 247.93,315.85 249.95,315.40 251.97,314.96 253.98,314.52 256.00,314.08 258.02,313.64 260.03,313.21 262.05,312.78 264.07,312.35 266.08,311.92 268.10,311.50 270.12,311.08 272.13,310.66 274.15,310.25 276.17,309.84 278.18,309.43 280.20,309.03 282.22,308.63 284.23,308.23 286.25,307.83 288.27,307.44 290.28,307.05 292.30,306.66 294.32,306.28 296.33,305.90 298.35,305.52 300.37,305.14 302.38,304.77 304.40,304.40 306.42,304.04 308.43,303.67 310.45,303.31 312.47,302.96 314.48,302.60 316.50,302.25 318.52,301.90 320.53,301.55 322.55,301.21 324.57,300.87 326.58,300.53 328.60,300.20" fill="none" stroke="#8a8a8a" stroke-width="1.2" stroke-linejoin="round" stroke-linecap="round" clip-path="url(#c960_1)"/>
<polyline points="229.78,324.46 231.80,323.91 233.82,323.38 235.83,322.84 237.85,322.31 239.87,321.78 241.88,321.25 243.90,320.73 245.92,320.21 247.93,319.69 249.95,319.18 251.97,318.67 253.98,318.16 256.00,317.66 258.02,317.16 260.03,316.66 262.05,316.17 264.07,315.67 266.08,315.19 268.10,314.70 270.12,314.22 272.13,313.74 274.15,313.26 276.17,312.79 278.18,312.32 280.20,311.85 282.22,311.39 284.23,310.93 286.25,310.47 288.27,310.02 290.28,309.57 292.30,309.12 294.32,308.68 296.33,308.24 298.35,307.80 300.37,307.36 302.38,306.93 304.40,306.50 306.42,306.08 308.43,305.65 310.45,305.23 312.47,304.82 314.48,304.40 316.50,303.99 318.52,303.59 320.53,303.18 322.55,302.78 324.57,302.39 326.58,301.99 328.60,301.60" fill="none" stroke="#8a8a8a" stroke-width="1.2" stroke-linejoin="round" stroke-linecap="round" clip-path="url(#c960_1)"/>
<polyline points="225.75,330.11 227.77,329.50 229.78,328.89 231.80,328.28 233.82,327.68 235.83,327.07 237.85,326.47 239.87,325.88 241.88,325.29 243.90,324.70 245.92,324.12 247.93,323.53 249.95,322.95 251.97,322.38 253.98,321.81 256.00,321.24 258.02,320.68 260.03,320.11 262.05,319.55 264.07,319.00 266.08,318.45 268.10,317.90 270.12,317.36 272.13,316.81 274.15,316.27 276.17,315.74 278.18,315.21 280.20,314.68 282.22,314.16 284.23,313.63 286.25,313.12 288.27,312.60 290.28,312.09 292.30,311.58 294.32,311.07 296.33,310.57 298.35,310.07 300.37,309.58 302.38,309.09 304.40,308.60 306.42,308.12 308.43,307.63 310.45,307.15 312.47,306.68 314.48,306.21 316.50,305.74 318.52,305.28 320.53,304.81 322.55,304.36 324.57,303.90 326.58,303.45 328.60,303.00" fill="none" stroke="#8a8a8a" stroke-width="1.2" stroke-linejoin="round" stroke-linecap="round" clip-path="url(#c960_1)"/>
<polyline points="221.72,336.06 223.73,335.37 225.75,334.68 227.77,334.00 229.78,333.32 231.80,332.65 233.82,331.97 235.83,331.31 237.85,330.64 239.87,329.98 241.88,329.32 243.90,328.67 245.92,328.02 247.93,327.37 249.95,326.73 251.97,326.09 253.98,325.45 256.00,324.82 258.02,324.19 260.03,323.57 262.05,322.94 264.07,322.33 266.08,321.71 268.10,321.10 270.12,320.49 272.13,319.89 274.15,319.29 276.17,318.69 278.18,318.10 280.20,317.51 282.22,316.92 284.23,316.34 286.25,315.76 288.27,315.18 290.28,314.61 292.30,314.04 294.32,313.47 296.33,312.91 298.35,312.35 300.37,311.80 302.38,311.25 304.40,310.70 306.42,310.15 308.43,309.61 310.45,309.08 312.47,308.54 314.48,308.01 316.50,307.49 318.52,306.96 320.53,306.44 322.55,305.93 324.57,305.41 326.58,304.91 328.60,304.40" fill="none" stroke="#8a8a8a" stroke-width="1.2" stroke-linejoin="round" stroke-linecap="round" clip-path="url(#c960_1)"/>
<polyline points="217.68,342.28 219.70,341.52 221.72,340.76 223.73,340.00 225.75,339.25 227.77,338.50 229.78,337.75 231.80,337.01 233.82,336.27 235.83,335.54 237.85,334.81 239.87,334.08 241.88,333.36 243.90,332.64 245.92,331.93 247.93,331.21 249.95,330.51 251.97,329.80 253.98,329.10 256.00,328.40 258.02,327.71 260.03,327.02 262.05,326.33 264.07,325.65 266.08,324.97 268.10,324.30 270.12,323.63 272.13,322.96 274.15,322.30 276.17,321.64 278.18,320.98 280.20,320.33 282.22,319.68 284.23,319.04 286.25,318.40 288.27,317.76 290.28,317.13 292.30,316.50 294.32,315.87 296.33,315.25 298.35,314.63 300.37,314.02 302.38,313.40 304.40,312.80 306.42,312.19 308.43,311.59 310.45,311.00 312.47,310.40 314.48,309.82 316.50,309.23 318.52,308.65 320.53,308.07 322.55,307.50 324.57,306.93 326.58,306.36 328.60,305.80" fill="none" stroke="#8a8a8a" stroke-width="1.2" stroke-linejoin="round" stroke-linecap="round" clip-path="url(#c960_1)"/>
<polyline points="213.65,348.80 215.67,347.96 217.68,347.12 219.70,346.29 221.72,345.46 223.73,344.64 225.75,343.82 227.77,343.00 229.78,342.19 231.80,341.38 233.82,340.57 235.83,339.77 237.85,338.98 239.87,338.18 241.88,337.40 243.90,336.61 245.92,335.83 247.93,335.05 249.95,334.28 251.97,333.51 253.98,332.75 256.00,331.98 258.02,331.23 260.03,330.47 262.05,329.72 264.07,328.98 266.08,328.24 268.10,327.50 270.12,326.77 272.13,326.04 274.15,325.31 276.17,324.59 278.18,323.87 280.20,323.16 282.22,322.45 284.23,321.74 286.25,321.04 288.27,320.34 290.28,319.65 292.30,318.96 294.32,318.27 296.33,317.59 298.35,316.91 300.37,316.23 302.38,315.56 304.40,314.90 306.42,314.23 308.43,313.57 310.45,312.92 312.47,312.27 314.48,311.62 316.50,310.98 318.52,310.34 320.53,309.70 322.55,309.07 324.57,308.44 326.58,307.82 328.60,307.20" fill="none" stroke="#8a8a8a" stroke-width="1.2" stroke-linejoin="round" stroke-linecap="round" clip-path="url(#c960_1)"/>
<polyline points="207.60,356.52 209.62,355.60 211.63,354.68 213.65,353.77 215.67,352.86 217.68,351.96 219.70,351.06 221.72,350.16 223.73,349.27 225.75,348.38 227.77,347.50 229.78,346.62 231.80,345.75 233.82,344.87 235.83,344.01 237.85,343.14 239.87,342.29 241.88,341.43 243.90,340.58 245.92,339.74 247.93,338.89 249.95,338.06 251.97,337.22 253.98,336.39 256.00,335.57 258.02,334.75 260.03,333.93 262.05,333.11 264.07,332.31 266.08,331.50 268.10,330.70 270.12,329.90 272.13,329.11 274.15,328.32 276.17,327.54 278.18,326.76 280.20,325.98 282.22,325.21 284.23,324.44 286.25,323.68 288.27,322.92 290.28,322.16 292.30,321.41 294.32,320.67 296.33,319.92 298.35,319.19 300.37,318.45 302.38,317.72 304.40,316.99 306.42,316.27 308.43,315.55 310.45,314.84 312.47,314.13 314.48,313.42 316.50,312.72 318.52,312.03 320.53,311.33 322.55,310.64 324.57,309.96 326.58,309.28 328.60,308.60" fill="none" stroke="#8a8a8a" stroke-width="1.2" stroke-linejoin="round" stroke-linecap="round" clip-path="url(#c960_1)"/>
<polyline points="207.60,361.70 209.62,360.71 211.63,359.73 213.65,358.74 215.67,357.77 217.68,356.80 219.70,355.83 221.72,354.86 223.73,353.91 225.75,352.95 227.77,352.00 229.78,351.05 231.80,350.11 233.82,349.17 235.83,348.24 237.85,347.31 239.87,346.39 241.88,345.47 243.90,344.55 245.92,343.64 247.93,342.73 249.95,341.83 251.97,340.93 253.98,340.04 256.00,339.15 258.02,338.26 260.03,337.38 262.05,336.50 264.07,335.63 266.08,334.76 268.10,333.90 270.12,333.04 272.13,332.19 274.15,331.33 276.17,330.49 278.18,329.65 280.20,328.81 282.22,327.97 284.23,327.15 286.25,326.32 288.27,325.50 290.28,324.68 292.30,323.87 294.32,323.06 296.33,322.26 298.35,321.46 300.37,320.67 302.38,319.88 304.40,319.09 306.42,318.31 308.43,317.53 310.45,316.76 312.47,315.99 314.48,315.23 316.50,314.47 318.52,313.71 320.53,312.96 322.55,312.21 324.57,311.47 326.58,310.73 328.60,310.00" fill="none" stroke="#8a8a8a" stroke-width="1.2" stroke-linejoin="round" stroke-linecap="round" clip-path="url(#c960_1)"/>
<polyline points="207.60,366.88 209.62,365.82 211.63,364.77 213.65,363.72 215.67,362.67 217.68,361.63 219.70,360.60 221.72,359.57 223.73,358.54 225.75,357.52 227.77,356.50 229.78,355.49 231.80,354.48 233.82,353.47 235.83,352.47 237.85,351.48 239.87,350.49 241.88,349.50 243.90,348.52 245.92,347.55 247.93,346.57 249.95,345.61 251.97,344.64 253.98,343.68 256.00,342.73 258.02,341.78 260.03,340.83 262.05,339.89 264.07,338.96 266.08,338.03 268.10,337.10 270.12,336.18 272.13,335.26 274.15,334.35 276.17,333.44 278.18,332.53 280.20,331.63 282.22,330.74 284.23,329.85 286.25,328.96 288.27,328.08 290.28,327.20 292.30,326.33 294.32,325.46 296.33,324.60 298.35,323.74 300.37,322.89 302.38,322.04 304.40,321.19 306.42,320.35 308.43,319.51 310.45,318.68 312.47,317.85 314.48,317.03 316.50,316.21 318.52,315.40 320.53,314.59 322.55,313.79 324.57,312.99 326.58,312.19 328.60,311.40" fill="none" stroke="#8a8a8a" stroke-width="1.2" stroke-linejoin="round" stroke-linecap="round" clip-path="url(#c960_1)"/>
<polyline points="207.60,372.06 209.62,370.93 211.63,369.81 213.65,368.69 215.67,367.58 217.68,366.47 219.70,365.37 221.72,364.27 223.73,363.17 225.75,362.08 227.77,361.00 229.78,359.92 231.80,358.84 233.82,357.77 235.83,356.71 237.85,355.65 239.87,354.59 241.88,353.54 243.90,352.49 245.92,351.45 247.93,350.41 249.95,349.38 251.97,348.35 253.98,347.33 256.00,346.31 258.02,345.30 260.03,344.29 262.05,343.28 264.07,342.28 266.08,341.29 268.10,340.30 270.12,339.31 272.13,338.33 274.15,337.36 276.17,336.39 278.18,335.42 280.20,334.46 282.22,333.50 284.23,332.55 286.25,331.60 288.27,330.66 290.28,329.72 292.30,328.79 294.32,327.86 296.33,326.94 298.35,326.02 300.37,325.10 302.38,324.19 304.40,323.29 306.42,322.39 308.43,321.49 310.45,320.60 312.47,319.72 314.48,318.84 316.50,317.96 318.52,317.09 320.53,316.22 322.55,315.36 324.57,314.50 326.58,313.65 328.60,312.80" fill="none" stroke="#8a8a8a" stroke-width="1.2" stroke-linejoin="round" stroke-linecap="round" clip-path="url(#c960_1)"/>
<polyline points="397.73,292.00 399.75,291.54 401.78,291.07 403.80,290.62 405.82,290.16 407.84,289.71 409.86,289.26 411.88,288.81 413.91,288.37 415.93,287.94 417.95,287.50 419.97,287.07 421.99,286.64 424.02,286.21 426.04,285.79 428.06,285.38 430.08,284.96 432.10,284.55 434.12,284.14 436.15,283.74 438.17,283.33 440.19,282.94 442.21,282.54 444.23,282.15 446.25,281.76 448.28,281.38 450.30,280.99 452.32,280.62 454.34,280.24 456.36,279.87 458.38,279.50 460.41,279.13 462.43,278.77 464.45,278.42 466.47,278.06 468.49,277.71 470.51,277.36 472.54,277.02 474.56,276.67 476.58,276.34 478.60,276.00" fill="none" stroke="#8a8a8a" stroke-width="1.2" stroke-linejoin="round" stroke-linecap="round" clip-path="url(#c960_2)"/>
<polyline points="391.67,301.87 393.69,301.29 395.71,300.71 397.73,300.13 399.75,299.56 401.78,298.99 403.80,298.42 405.82,297.86 407.84,297.30 409.86,296.74 411.88,296.19 413.91,295.64 415.93,295.09 417.95,294.55 419.97,294.01 421.99,293.47 424.02,292.94 426.04,292.41 428.06,291.88 430.08,291.36 432.10,290.84 434.12,290.32 436.15,289.81 438.17,289.30 440.19,288.79 442.21,288.29 444.23,287.79 446.25,287.29 448.28,286.80 450.30,286.31 452.32,285.82 454.34,285.34 456.36,284.86 458.38,284.38 460.41,283.91 462.43,283.44 464.45,282.97 466.47,282.51 468.49,282.05 470.51,281.59 472.54,281.14 474.56,280.69 476.58,280.24 478.60,279.80" fill="none" stroke="#8a8a8a" stroke-width="1.2" stroke-linejoin="round" stroke-linecap="round" clip-path="url(#c960_2)"/>
<polyline points="383.58,314.14 385.60,313.41 387.62,312.68 389.65,311.95 391.67,311.22 393.69,310.50 395.71,309.78 397.73,309.07 399.75,308.36 401.78,307.65 403.80,306.94 405.82,306.24 407.84,305.54 409.86,304.85 411.88,304.15 413.91,303.47 415.93,302.78 417.95,302.10 419.97,301.42 421.99,300.75 424.02,300.07 426.04,299.41 428.06,298.74 430.08,298.08 432.10,297.42 434.12,296.77 436.15,296.12 438.17,295.47 440.19,294.82 442.21,294.18 444.23,293.54 446.25,292.91 448.28,292.27 450.30,291.65 452.32,291.02 454.34,290.40 456.36,289.78 458.38,289.17 460.41,288.55 462.43,287.95 464.45,287.34 466.47,286.74 468.49,286.14 470.51,285.55 472.54,284.95 474.56,284.37 476.58,283.78 478.60,283.20" fill="none" stroke="#8a8a8a" stroke-width="1.2" stroke-linejoin="round" stroke-linecap="round" clip-path="url(#c960_2)"/>
<polyline points="375.50,325.71 377.52,324.87 379.54,324.02 381.56,323.18 383.58,322.34 385.60,321.51 387.62,320.68 389.65,319.85 391.67,319.02 393.69,318.20 395.71,317.38 397.73,316.57 399.75,315.75 401.78,314.95 403.80,314.14 405.82,313.34 407.84,312.54 409.86,311.75 411.88,310.95 413.91,310.17 415.93,309.38 417.95,308.60 419.97,307.82 421.99,307.05 424.02,306.27 426.04,305.51 428.06,304.74 430.08,303.98 432.10,303.22 434.12,302.47 436.15,301.72 438.17,300.97 440.19,300.22 442.21,299.48 444.23,298.74 446.25,298.01 448.28,297.27 450.30,296.55 452.32,295.82 454.34,295.10 456.36,294.38 458.38,293.67 460.41,292.95 462.43,292.25 464.45,291.54 466.47,290.84 468.49,290.14 470.51,289.45 472.54,288.75 474.56,288.07 476.58,287.38 478.60,286.70" fill="none" stroke="#8a8a8a" stroke-width="1.2" stroke-linejoin="round" stroke-linecap="round" clip-path="url(#c960_2)"/>
<polyline points="371.45,333.60 373.47,332.64 375.50,331.68 377.52,330.73 379.54,329.78 381.56,328.84 383.58,327.90 385.60,326.96 387.62,326.02 389.65,325.09 391.67,324.17 393.69,323.24 395.71,322.32 397.73,321.40 399.75,320.49 401.78,319.57 403.80,318.66 405.82,317.76 407.84,316.86 409.86,315.96 411.88,315.06 413.91,314.17 415.93,313.28 417.95,312.40 419.97,311.52 421.99,310.64 424.02,309.76 426.04,308.89 428.06,308.02 430.08,307.16 432.10,306.30 434.12,305.44 436.15,304.58 438.17,303.73 440.19,302.88 442.21,302.04 444.23,301.20 446.25,300.36 448.28,299.52 450.30,298.69 452.32,297.86 454.34,297.04 456.36,296.22 458.38,295.40 460.41,294.58 462.43,293.77 464.45,292.96 466.47,292.16 468.49,291.36 470.51,290.56 472.54,289.76 474.56,288.97 476.58,288.19 478.60,287.40" fill="none" stroke="#8a8a8a" stroke-width="1.2" stroke-linejoin="round" stroke-linecap="round" clip-path="url(#c960_2)"/>
<polyline points="365.39,342.95 367.41,341.92 369.43,340.89 371.45,339.87 373.47,338.85 375.50,337.83 377.52,336.82 379.54,335.81 381.56,334.80 383.58,333.80 385.60,332.80 387.62,331.80 389.65,330.81 391.67,329.82 393.69,328.83 395.71,327.85 397.73,326.87 399.75,325.89 401.78,324.92 403.80,323.95 405.82,322.98 407.84,322.02 409.86,321.06 411.88,320.10 413.91,319.15 415.93,318.20 417.95,317.25 419.97,316.31 421.99,315.37 424.02,314.43 426.04,313.50 428.06,312.57 430.08,311.64 432.10,310.72 434.12,309.80 436.15,308.88 438.17,307.97 440.19,307.06 442.21,306.15 444.23,305.25 446.25,304.35 448.28,303.45 450.30,302.56 452.32,301.67 454.34,300.78 456.36,299.90 458.38,299.02 460.41,298.14 462.43,297.27 464.45,296.40 466.47,295.53 468.49,294.67 470.51,293.81 472.54,292.95 474.56,292.10 476.58,291.25 478.60,290.40" fill="none" stroke="#8a8a8a" stroke-width="1.2" stroke-linejoin="round" stroke-linecap="round" clip-path="url(#c960_2)"/>
<polyline points="361.34,348.84 363.37,347.77 365.39,346.70 367.41,345.63 369.43,344.57 371.45,343.51 373.47,342.45 375.50,341.40 377.52,340.35 379.54,339.30 381.56,338.26 383.58,337.22 385.60,336.18 387.62,335.15 389.65,334.12 391.67,333.09 393.69,332.07 395.71,331.05 397.73,330.03 399.75,329.02 401.78,328.01 403.80,327.00 405.82,326.00 407.84,325.00 409.86,324.00 411.88,323.01 413.91,322.02 415.93,321.03 417.95,320.05 419.97,319.07 421.99,318.09 424.02,317.12 426.04,316.15 428.06,315.18 430.08,314.22 432.10,313.26 434.12,312.30 436.15,311.35 438.17,310.40 440.19,309.45 442.21,308.51 444.23,307.57 446.25,306.63 448.28,305.70 450.30,304.77 452.32,303.84 454.34,302.92 456.36,302.00 458.38,301.08 460.41,300.17 462.43,299.26 464.45,298.35 466.47,297.45 468.49,296.55 470.51,295.65 472.54,294.76 474.56,293.87 476.58,292.98 478.60,292.10" fill="none" stroke="#8a8a8a" stroke-width="1.2" stroke-linejoin="round" stroke-linecap="round" clip-path="url(#c960_2)"/>
<polyline points="357.30,355.50 359.32,354.38 361.34,353.26 363.37,352.14 365.39,351.03 367.41,349.92 369.43,348.81 371.45,347.71 373.47,346.61 375.50,345.51 377.52,344.42 379.54,343.33 381.56,342.24 383.58,341.16 385.60,340.08 387.62,339.00 389.65,337.93 391.67,336.86 393.69,335.79 395.71,334.73 397.73,333.67 399.75,332.61 401.78,331.56 403.80,330.51 405.82,329.46 407.84,328.42 409.86,327.38 411.88,326.34 413.91,325.31 415.93,324.28 417.95,323.25 419.97,322.23 421.99,321.21 424.02,320.19 426.04,319.18 428.06,318.17 430.08,317.16 432.10,316.16 434.12,315.16 436.15,314.16 438.17,313.17 440.19,312.18 442.21,311.19 444.23,310.21 446.25,309.23 448.28,308.25 450.30,307.28 452.32,306.31 454.34,305.34 456.36,304.38 458.38,303.42 460.41,302.46 462.43,301.51 464.45,300.56 466.47,299.61 468.49,298.67 470.51,297.73 472.54,296.79 474.56,295.86 476.58,294.93 478.60,294.00" fill="none" stroke="#8a8a8a" stroke-width="1.2" stroke-linejoin="round" stroke-linecap="round" clip-path="url(#c960_2)"/>
<polyline points="357.30,360.00 359.32,358.83 361.34,357.67 363.37,356.51 365.39,355.36 367.41,354.21 369.43,353.06 371.45,351.91 373.47,350.77 375.50,349.63 377.52,348.50 379.54,347.37 381.56,346.24 383.58,345.12 385.60,343.99 387.62,342.88 389.65,341.76 391.67,340.65 393.69,339.54 395.71,338.44 397.73,337.33 399.75,336.24 401.78,335.14 403.80,334.05 405.82,332.96 407.84,331.88 409.86,330.79 411.88,329.71 413.91,328.64 415.93,327.57 417.95,326.50 419.97,325.44 421.99,324.37 424.02,323.31 426.04,322.26 428.06,321.21 430.08,320.16 432.10,319.12 434.12,318.07 436.15,317.04 438.17,316.00 440.19,314.97 442.21,313.94 444.23,312.91 446.25,311.89 448.28,310.88 450.30,309.86 452.32,308.85 454.34,307.84 456.36,306.83 458.38,305.83 460.41,304.83 462.43,303.84 464.45,302.85 466.47,301.86 468.49,300.88 470.51,299.89 472.54,298.92 474.56,297.94 476.58,296.97 478.60,296.00" fill="none" stroke="#8a8a8a" stroke-width="1.2" stroke-linejoin="round" stroke-linecap="round" clip-path="url(#c960_2)"/>
<line x1="59.20" y1="213.00" x2="107.50" y2="158.50" stroke="#0a8a0a" stroke-width="2.0"/>
<line x1="59.20" y1="356.30" x2="98.80" y2="295.60" stroke="#0a8a0a" stroke-width="2.0"/>
<line x1="207.60" y1="206.30" x2="249.30" y2="160.50" stroke="#0a8a0a" stroke-width="2.0"/>
<line x1="207.60" y1="356.30" x2="248.00" y2="295.30" stroke="#0a8a0a" stroke-width="2.0"/>
<line x1="357.40" y1="203.80" x2="397.50" y2="158.20" stroke="#0a8a0a" stroke-width="2.0"/>
<line x1="357.30" y1="354.30" x2="396.00" y2="293.40" stroke="#0a8a0a" stroke-width="2.0"/>
<polyline points="96.25,177.00 113.00,180.75 129.50,183.90 146.20,185.20 162.90,186.00 179.00,186.20" fill="none" stroke="#0000ff" stroke-width="1.6" stroke-linejoin="round" stroke-linecap="round"/>
<rect x="93.15" y="173.90" width="6.20" height="6.20" fill="#0000ff"/>
<rect x="109.90" y="177.65" width="6.20" height="6.20" fill="#0000ff"/>
<rect x="126.40" y="180.80" width="6.20" height="6.20" fill="#0000ff"/>
<rect x="143.10" y="182.10" width="6.20" height="6.20" fill="#0000ff"/>
<rect x="159.80" y="182.90" width="6.20" height="6.20" fill="#0000ff"/>
<rect x="175.90" y="183.10" width="6.20" height="6.20" fill="#0000ff"/>
<rect x="58.40" y="176.80" width="2.40" height="5.50" fill="#0000ff"/>
<polyline points="238.50,172.60 245.00,174.50 261.75,178.25 278.50,180.00 295.50,180.50 311.75,180.50 327.50,180.50" fill="none" stroke="#0000ff" stroke-width="1.6" stroke-linejoin="round" stroke-linecap="round"/>
<rect x="241.90" y="171.40" width="6.20" height="6.20" fill="#0000ff"/>
<rect x="258.65" y="175.15" width="6.20" height="6.20" fill="#0000ff"/>
<rect x="275.40" y="176.90" width="6.20" height="6.20" fill="#0000ff"/>
<rect x="292.40" y="177.40" width="6.20" height="6.20" fill="#0000ff"/>
<rect x="308.65" y="177.40" width="6.20" height="6.20" fill="#0000ff"/>
<rect x="324.40" y="177.40" width="6.20" height="6.20" fill="#0000ff"/>
<polyline points="391.80,167.50 395.00,167.50 411.25,167.50 428.00,167.50 444.75,167.50 461.25,167.50 477.50,168.00" fill="none" stroke="#0000ff" stroke-width="1.6" stroke-linejoin="round" stroke-linecap="round"/>
<rect x="391.90" y="164.40" width="6.20" height="6.20" fill="#0000ff"/>
<rect x="408.15" y="164.40" width="6.20" height="6.20" fill="#0000ff"/>
<rect x="424.90" y="164.40" width="6.20" height="6.20" fill="#0000ff"/>
<rect x="441.65" y="164.40" width="6.20" height="6.20" fill="#0000ff"/>
<rect x="458.15" y="164.40" width="6.20" height="6.20" fill="#0000ff"/>
<rect x="474.40" y="164.90" width="6.20" height="6.20" fill="#0000ff"/>
<polyline points="59.20,247.50 62.54,246.25 79.23,239.25 95.93,233.00 112.62,227.00 129.32,221.25 146.01,215.60 162.71,210.70 179.40,207.10" fill="none" stroke="#ff0000" stroke-width="1.6" stroke-linejoin="round" stroke-linecap="round"/>
<circle cx="62.54" cy="246.25" r="3.45" fill="#ff0000"/>
<circle cx="79.23" cy="239.25" r="3.45" fill="#ff0000"/>
<circle cx="95.93" cy="233.00" r="3.45" fill="#ff0000"/>
<circle cx="112.62" cy="227.00" r="3.45" fill="#ff0000"/>
<circle cx="129.32" cy="221.25" r="3.45" fill="#ff0000"/>
<circle cx="146.01" cy="215.60" r="3.45" fill="#ff0000"/>
<circle cx="162.71" cy="210.70" r="3.45" fill="#ff0000"/>
<circle cx="179.40" cy="207.10" r="3.45" fill="#ff0000"/>
<polyline points="207.60,244.20 210.97,243.00 227.80,236.25 244.63,229.50 261.47,223.00 278.30,218.00 295.13,213.00 311.97,208.00 328.80,204.50" fill="none" stroke="#ff0000" stroke-width="1.6" stroke-linejoin="round" stroke-linecap="round"/>
<circle cx="210.97" cy="243.00" r="3.45" fill="#ff0000"/>
<circle cx="227.80" cy="236.25" r="3.45" fill="#ff0000"/>
<circle cx="244.63" cy="229.50" r="3.45" fill="#ff0000"/>
<circle cx="261.47" cy="223.00" r="3.45" fill="#ff0000"/>
<circle cx="278.30" cy="218.00" r="3.45" fill="#ff0000"/>
<circle cx="295.13" cy="213.00" r="3.45" fill="#ff0000"/>
<circle cx="311.97" cy="208.00" r="3.45" fill="#ff0000"/>
<circle cx="328.80" cy="204.50" r="3.45" fill="#ff0000"/>
<polyline points="311.97,198.75 328.80,199.50" fill="none" stroke="#ff0000" stroke-width="1.6" stroke-linejoin="round" stroke-linecap="round"/>
<circle cx="311.97" cy="198.75" r="3.45" fill="#ff0000"/>
<circle cx="328.80" cy="199.50" r="3.45" fill="#ff0000"/>
<polyline points="357.40,236.00 360.76,234.50 377.55,227.00 394.34,220.50 411.13,214.25 427.93,209.50 444.72,205.00 461.51,200.00 478.30,197.50" fill="none" stroke="#ff0000" stroke-width="1.6" stroke-linejoin="round" stroke-linecap="round"/>
<circle cx="360.76" cy="234.50" r="3.45" fill="#ff0000"/>
<circle cx="377.55" cy="227.00" r="3.45" fill="#ff0000"/>
<circle cx="394.34" cy="220.50" r="3.45" fill="#ff0000"/>
<circle cx="411.13" cy="214.25" r="3.45" fill="#ff0000"/>
<circle cx="427.93" cy="209.50" r="3.45" fill="#ff0000"/>
<circle cx="444.72" cy="205.00" r="3.45" fill="#ff0000"/>
<circle cx="461.51" cy="200.00" r="3.45" fill="#ff0000"/>
<circle cx="478.30" cy="197.50" r="3.45" fill="#ff0000"/>
<polyline points="444.72,188.25 461.51,190.75 478.30,193.75" fill="none" stroke="#ff0000" stroke-width="1.6" stroke-linejoin="round" stroke-linecap="round"/>
<circle cx="444.72" cy="188.25" r="3.45" fill="#ff0000"/>
<circle cx="461.51" cy="190.75" r="3.45" fill="#ff0000"/>
<circle cx="478.30" cy="193.75" r="3.45" fill="#ff0000"/>
<polyline points="59.20,379.00 62.54,377.00 79.23,364.25 95.93,355.50 112.62,349.25 129.32,343.25 146.01,337.50 162.71,332.50 179.40,327.50" fill="none" stroke="#ff0000" stroke-width="1.6" stroke-linejoin="round" stroke-linecap="round"/>
<circle cx="62.54" cy="377.00" r="3.45" fill="#ff0000"/>
<circle cx="79.23" cy="364.25" r="3.45" fill="#ff0000"/>
<circle cx="95.93" cy="355.50" r="3.45" fill="#ff0000"/>
<circle cx="112.62" cy="349.25" r="3.45" fill="#ff0000"/>
<circle cx="129.32" cy="343.25" r="3.45" fill="#ff0000"/>
<circle cx="146.01" cy="337.50" r="3.45" fill="#ff0000"/>
<circle cx="162.71" cy="332.50" r="3.45" fill="#ff0000"/>
<circle cx="179.40" cy="327.50" r="3.45" fill="#ff0000"/>
<polyline points="104.28,303.75 120.97,308.75 137.66,314.25 154.36,319.25 171.05,324.50 179.40,327.50" fill="none" stroke="#ff0000" stroke-width="1.6" stroke-linejoin="round" stroke-linecap="round"/>
<circle cx="104.28" cy="303.75" r="3.45" fill="#ff0000"/>
<circle cx="120.97" cy="308.75" r="3.45" fill="#ff0000"/>
<circle cx="137.66" cy="314.25" r="3.45" fill="#ff0000"/>
<circle cx="154.36" cy="319.25" r="3.45" fill="#ff0000"/>
<circle cx="171.05" cy="324.50" r="3.45" fill="#ff0000"/>
<polyline points="207.60,375.50 210.96,373.25 227.77,360.75 244.57,351.25 261.38,344.50 278.18,339.50 294.99,334.50 311.79,329.25 328.60,323.75" fill="none" stroke="#ff0000" stroke-width="1.6" stroke-linejoin="round" stroke-linecap="round"/>
<circle cx="210.96" cy="373.25" r="3.45" fill="#ff0000"/>
<circle cx="227.77" cy="360.75" r="3.45" fill="#ff0000"/>
<circle cx="244.57" cy="351.25" r="3.45" fill="#ff0000"/>
<circle cx="261.38" cy="344.50" r="3.45" fill="#ff0000"/>
<circle cx="278.18" cy="339.50" r="3.45" fill="#ff0000"/>
<circle cx="294.99" cy="334.50" r="3.45" fill="#ff0000"/>
<circle cx="311.79" cy="329.25" r="3.45" fill="#ff0000"/>
<circle cx="328.60" cy="323.75" r="3.45" fill="#ff0000"/>
<polyline points="245.50,298.75 252.98,301.25 269.78,306.25 286.59,311.75 303.39,316.75 320.20,321.75 328.60,323.75" fill="none" stroke="#ff0000" stroke-width="1.6" stroke-linejoin="round" stroke-linecap="round"/>
<circle cx="252.98" cy="301.25" r="3.45" fill="#ff0000"/>
<circle cx="269.78" cy="306.25" r="3.45" fill="#ff0000"/>
<circle cx="286.59" cy="311.75" r="3.45" fill="#ff0000"/>
<circle cx="303.39" cy="316.75" r="3.45" fill="#ff0000"/>
<circle cx="320.20" cy="321.75" r="3.45" fill="#ff0000"/>
<polyline points="357.30,370.00 360.67,368.00 377.52,353.75 394.36,345.50 411.21,338.75 428.06,333.50 444.91,328.75 461.75,323.75 478.60,319.25" fill="none" stroke="#ff0000" stroke-width="1.6" stroke-linejoin="round" stroke-linecap="round"/>
<circle cx="360.67" cy="368.00" r="3.45" fill="#ff0000"/>
<circle cx="377.52" cy="353.75" r="3.45" fill="#ff0000"/>
<circle cx="394.36" cy="345.50" r="3.45" fill="#ff0000"/>
<circle cx="411.21" cy="338.75" r="3.45" fill="#ff0000"/>
<circle cx="428.06" cy="333.50" r="3.45" fill="#ff0000"/>
<circle cx="444.91" cy="328.75" r="3.45" fill="#ff0000"/>
<circle cx="461.75" cy="323.75" r="3.45" fill="#ff0000"/>
<circle cx="478.60" cy="319.25" r="3.45" fill="#ff0000"/>
<polyline points="396.75,293.50 411.21,298.75 428.06,304.25 444.91,309.25 461.75,313.75 478.60,319.25" fill="none" stroke="#ff0000" stroke-width="1.6" stroke-linejoin="round" stroke-linecap="round"/>
<circle cx="411.21" cy="298.75" r="3.45" fill="#ff0000"/>
<circle cx="428.06" cy="304.25" r="3.45" fill="#ff0000"/>
<circle cx="444.91" cy="309.25" r="3.45" fill="#ff0000"/>
<circle cx="461.75" cy="313.75" r="3.45" fill="#ff0000"/>
<line x1="59.20" y1="250.30" x2="59.20" y2="253.30" stroke="#111" stroke-width="1"/>
<line x1="79.23" y1="250.30" x2="79.23" y2="252.30" stroke="#111" stroke-width="1"/>
<line x1="99.27" y1="250.30" x2="99.27" y2="253.30" stroke="#111" stroke-width="1"/>
<line x1="119.30" y1="250.30" x2="119.30" y2="252.30" stroke="#111" stroke-width="1"/>
<line x1="139.33" y1="250.30" x2="139.33" y2="253.30" stroke="#111" stroke-width="1"/>
<line x1="159.37" y1="250.30" x2="159.37" y2="252.30" stroke="#111" stroke-width="1"/>
<line x1="179.40" y1="250.30" x2="179.40" y2="253.30" stroke="#111" stroke-width="1"/>
<line x1="56.20" y1="250.30" x2="59.20" y2="250.30" stroke="#111" stroke-width="1"/>
<line x1="57.20" y1="238.83" x2="59.20" y2="238.83" stroke="#111" stroke-width="1"/>
<line x1="56.20" y1="227.35" x2="59.20" y2="227.35" stroke="#111" stroke-width="1"/>
<line x1="57.20" y1="215.88" x2="59.20" y2="215.88" stroke="#111" stroke-width="1"/>
<line x1="56.20" y1="204.40" x2="59.20" y2="204.40" stroke="#111" stroke-width="1"/>
<line x1="57.20" y1="192.93" x2="59.20" y2="192.93" stroke="#111" stroke-width="1"/>
<line x1="56.20" y1="181.45" x2="59.20" y2="181.45" stroke="#111" stroke-width="1"/>
<line x1="57.20" y1="169.97" x2="59.20" y2="169.97" stroke="#111" stroke-width="1"/>
<line x1="56.20" y1="158.50" x2="59.20" y2="158.50" stroke="#111" stroke-width="1"/>
<rect x="59.20" y="158.50" width="120.20" height="91.80" fill="none" stroke="#111" stroke-width="1.5"/>
<line x1="207.60" y1="252.40" x2="207.60" y2="255.40" stroke="#111" stroke-width="1"/>
<line x1="227.80" y1="252.40" x2="227.80" y2="254.40" stroke="#111" stroke-width="1"/>
<line x1="248.00" y1="252.40" x2="248.00" y2="255.40" stroke="#111" stroke-width="1"/>
<line x1="268.20" y1="252.40" x2="268.20" y2="254.40" stroke="#111" stroke-width="1"/>
<line x1="288.40" y1="252.40" x2="288.40" y2="255.40" stroke="#111" stroke-width="1"/>
<line x1="308.60" y1="252.40" x2="308.60" y2="254.40" stroke="#111" stroke-width="1"/>
<line x1="328.80" y1="252.40" x2="328.80" y2="255.40" stroke="#111" stroke-width="1"/>
<line x1="204.60" y1="252.40" x2="207.60" y2="252.40" stroke="#111" stroke-width="1"/>
<line x1="205.60" y1="240.91" x2="207.60" y2="240.91" stroke="#111" stroke-width="1"/>
<line x1="204.60" y1="229.43" x2="207.60" y2="229.43" stroke="#111" stroke-width="1"/>
<line x1="205.60" y1="217.94" x2="207.60" y2="217.94" stroke="#111" stroke-width="1"/>
<line x1="204.60" y1="206.45" x2="207.60" y2="206.45" stroke="#111" stroke-width="1"/>
<line x1="205.60" y1="194.96" x2="207.60" y2="194.96" stroke="#111" stroke-width="1"/>
<line x1="204.60" y1="183.47" x2="207.60" y2="183.47" stroke="#111" stroke-width="1"/>
<line x1="205.60" y1="171.99" x2="207.60" y2="171.99" stroke="#111" stroke-width="1"/>
<line x1="204.60" y1="160.50" x2="207.60" y2="160.50" stroke="#111" stroke-width="1"/>
<rect x="207.60" y="160.50" width="121.20" height="91.90" fill="none" stroke="#111" stroke-width="1.5"/>
<line x1="357.40" y1="250.00" x2="357.40" y2="253.00" stroke="#111" stroke-width="1"/>
<line x1="377.55" y1="250.00" x2="377.55" y2="252.00" stroke="#111" stroke-width="1"/>
<line x1="397.70" y1="250.00" x2="397.70" y2="253.00" stroke="#111" stroke-width="1"/>
<line x1="417.85" y1="250.00" x2="417.85" y2="252.00" stroke="#111" stroke-width="1"/>
<line x1="438.00" y1="250.00" x2="438.00" y2="253.00" stroke="#111" stroke-width="1"/>
<line x1="458.15" y1="250.00" x2="458.15" y2="252.00" stroke="#111" stroke-width="1"/>
<line x1="478.30" y1="250.00" x2="478.30" y2="253.00" stroke="#111" stroke-width="1"/>
<line x1="354.40" y1="250.00" x2="357.40" y2="250.00" stroke="#111" stroke-width="1"/>
<line x1="355.40" y1="238.53" x2="357.40" y2="238.53" stroke="#111" stroke-width="1"/>
<line x1="354.40" y1="227.05" x2="357.40" y2="227.05" stroke="#111" stroke-width="1"/>
<line x1="355.40" y1="215.57" x2="357.40" y2="215.57" stroke="#111" stroke-width="1"/>
<line x1="354.40" y1="204.10" x2="357.40" y2="204.10" stroke="#111" stroke-width="1"/>
<line x1="355.40" y1="192.62" x2="357.40" y2="192.62" stroke="#111" stroke-width="1"/>
<line x1="354.40" y1="181.15" x2="357.40" y2="181.15" stroke="#111" stroke-width="1"/>
<line x1="355.40" y1="169.67" x2="357.40" y2="169.67" stroke="#111" stroke-width="1"/>
<line x1="354.40" y1="158.20" x2="357.40" y2="158.20" stroke="#111" stroke-width="1"/>
<rect x="357.40" y="158.20" width="120.90" height="91.80" fill="none" stroke="#111" stroke-width="1.5"/>
<line x1="59.20" y1="387.80" x2="59.20" y2="390.80" stroke="#111" stroke-width="1"/>
<line x1="79.23" y1="387.80" x2="79.23" y2="389.80" stroke="#111" stroke-width="1"/>
<line x1="99.27" y1="387.80" x2="99.27" y2="390.80" stroke="#111" stroke-width="1"/>
<line x1="119.30" y1="387.80" x2="119.30" y2="389.80" stroke="#111" stroke-width="1"/>
<line x1="139.33" y1="387.80" x2="139.33" y2="390.80" stroke="#111" stroke-width="1"/>
<line x1="159.37" y1="387.80" x2="159.37" y2="389.80" stroke="#111" stroke-width="1"/>
<line x1="179.40" y1="387.80" x2="179.40" y2="390.80" stroke="#111" stroke-width="1"/>
<line x1="56.20" y1="387.80" x2="59.20" y2="387.80" stroke="#111" stroke-width="1"/>
<line x1="57.20" y1="372.43" x2="59.20" y2="372.43" stroke="#111" stroke-width="1"/>
<line x1="56.20" y1="357.07" x2="59.20" y2="357.07" stroke="#111" stroke-width="1"/>
<line x1="57.20" y1="341.70" x2="59.20" y2="341.70" stroke="#111" stroke-width="1"/>
<line x1="56.20" y1="326.33" x2="59.20" y2="326.33" stroke="#111" stroke-width="1"/>
<line x1="57.20" y1="310.97" x2="59.20" y2="310.97" stroke="#111" stroke-width="1"/>
<line x1="56.20" y1="295.60" x2="59.20" y2="295.60" stroke="#111" stroke-width="1"/>
<rect x="59.20" y="295.60" width="120.20" height="92.20" fill="none" stroke="#111" stroke-width="1.5"/>
<line x1="207.60" y1="388.30" x2="207.60" y2="391.30" stroke="#111" stroke-width="1"/>
<line x1="227.77" y1="388.30" x2="227.77" y2="390.30" stroke="#111" stroke-width="1"/>
<line x1="247.93" y1="388.30" x2="247.93" y2="391.30" stroke="#111" stroke-width="1"/>
<line x1="268.10" y1="388.30" x2="268.10" y2="390.30" stroke="#111" stroke-width="1"/>
<line x1="288.27" y1="388.30" x2="288.27" y2="391.30" stroke="#111" stroke-width="1"/>
<line x1="308.43" y1="388.30" x2="308.43" y2="390.30" stroke="#111" stroke-width="1"/>
<line x1="328.60" y1="388.30" x2="328.60" y2="391.30" stroke="#111" stroke-width="1"/>
<line x1="204.60" y1="388.30" x2="207.60" y2="388.30" stroke="#111" stroke-width="1"/>
<line x1="205.60" y1="372.80" x2="207.60" y2="372.80" stroke="#111" stroke-width="1"/>
<line x1="204.60" y1="357.30" x2="207.60" y2="357.30" stroke="#111" stroke-width="1"/>
<line x1="205.60" y1="341.80" x2="207.60" y2="341.80" stroke="#111" stroke-width="1"/>
<line x1="204.60" y1="326.30" x2="207.60" y2="326.30" stroke="#111" stroke-width="1"/>
<line x1="205.60" y1="310.80" x2="207.60" y2="310.80" stroke="#111" stroke-width="1"/>
<line x1="204.60" y1="295.30" x2="207.60" y2="295.30" stroke="#111" stroke-width="1"/>
<rect x="207.60" y="295.30" width="121.00" height="93.00" fill="none" stroke="#111" stroke-width="1.5"/>
<line x1="357.30" y1="386.20" x2="357.30" y2="389.20" stroke="#111" stroke-width="1"/>
<line x1="377.52" y1="386.20" x2="377.52" y2="388.20" stroke="#111" stroke-width="1"/>
<line x1="397.73" y1="386.20" x2="397.73" y2="389.20" stroke="#111" stroke-width="1"/>
<line x1="417.95" y1="386.20" x2="417.95" y2="388.20" stroke="#111" stroke-width="1"/>
<line x1="438.17" y1="386.20" x2="438.17" y2="389.20" stroke="#111" stroke-width="1"/>
<line x1="458.38" y1="386.20" x2="458.38" y2="388.20" stroke="#111" stroke-width="1"/>
<line x1="478.60" y1="386.20" x2="478.60" y2="389.20" stroke="#111" stroke-width="1"/>
<line x1="354.30" y1="386.20" x2="357.30" y2="386.20" stroke="#111" stroke-width="1"/>
<line x1="355.30" y1="370.73" x2="357.30" y2="370.73" stroke="#111" stroke-width="1"/>
<line x1="354.30" y1="355.27" x2="357.30" y2="355.27" stroke="#111" stroke-width="1"/>
<line x1="355.30" y1="339.80" x2="357.30" y2="339.80" stroke="#111" stroke-width="1"/>
<line x1="354.30" y1="324.33" x2="357.30" y2="324.33" stroke="#111" stroke-width="1"/>
<line x1="355.30" y1="308.87" x2="357.30" y2="308.87" stroke="#111" stroke-width="1"/>
<line x1="354.30" y1="293.40" x2="357.30" y2="293.40" stroke="#111" stroke-width="1"/>
<rect x="357.30" y="293.40" width="121.30" height="92.80" fill="none" stroke="#111" stroke-width="1.5"/>
<rect x="60.50" y="12.80" width="7.00" height="2.00" fill="#0a8a0a"/>
<text x="73.2" y="15.4" font-size="13.8" font-weight="bold" font-family="'Liberation Sans', Arial, sans-serif" textLength="71.5" lengthAdjust="spacingAndGlyphs" fill="#000" stroke="#000" stroke-width="0.25">Light&#160;&#160;line</text>
<rect x="149.50" y="12.80" width="6.00" height="1.60" fill="#9a9a9a"/>
<text x="160.7" y="15.4" font-size="13.8" font-weight="bold" font-family="'Liberation Sans', Arial, sans-serif" textLength="83" lengthAdjust="spacingAndGlyphs" fill="#000" stroke="#000" stroke-width="0.25">Slab modes</text>
<rect x="255.50" y="6.20" width="18.20" height="11.30" fill="#ff00ff"/>
<text x="281.4" y="15.4" font-size="13.8" font-weight="bold" font-family="'Liberation Sans', Arial, sans-serif" textLength="73" lengthAdjust="spacingAndGlyphs" fill="#000" stroke="#000" stroke-width="0.25">Band-gap</text>
<rect x="360.60" y="6.50" width="15.00" height="10.50" fill="#00ffff"/>
<text x="382.1" y="15.4" font-size="13.8" font-weight="bold" font-family="'Liberation Sans', Arial, sans-serif" textLength="131" lengthAdjust="spacingAndGlyphs" fill="#000" stroke="#000" stroke-width="0.25">Radiation modes</text>
<line x1="27.00" y1="147.00" x2="36.30" y2="147.00" stroke="#0000ff" stroke-width="1.6"/>
<rect x="30.30" y="145.60" width="2.80" height="2.80" fill="#0000ff"/>
<text x="40.6" y="148.8" font-size="15.3" font-weight="bold" font-family="'Liberation Sans', Arial, sans-serif" textLength="199" lengthAdjust="spacingAndGlyphs" fill="#000" stroke="#000" stroke-width="0.25">Band-gap guided TE Modes</text>
<line x1="243.00" y1="147.00" x2="253.80" y2="147.00" stroke="#0a8a0a" stroke-width="2"/>
<text x="257.4" y="148.8" font-size="15.3" font-weight="bold" font-family="'Liberation Sans', Arial, sans-serif" textLength="71" lengthAdjust="spacingAndGlyphs" fill="#000" stroke="#000" stroke-width="0.25">Light&#160;&#160;line</text>
<line x1="332.50" y1="147.00" x2="343.00" y2="147.00" stroke="#ff0000" stroke-width="1.6"/>
<circle cx="337.8" cy="147" r="1.6" fill="#ff0000"/>
<text x="350.0" y="149.5" font-size="16.5" font-weight="bold" font-family="'Liberation Serif', 'Times New Roman', serif" textLength="167" lengthAdjust="spacingAndGlyphs" fill="#000" stroke="#000" stroke-width="0.25">Index Guided TE modes</text>
<line x1="128.00" y1="280.80" x2="140.00" y2="280.80" stroke="#ff0000" stroke-width="1.6"/>
<circle cx="134" cy="280.8" r="1.6" fill="#ff0000"/>
<text x="144.2" y="283.3" font-size="15" font-weight="bold" font-family="'Liberation Serif', 'Times New Roman', serif" textLength="166.3" lengthAdjust="spacingAndGlyphs" fill="#000" stroke="#000" stroke-width="0.25">Index Guided TM mode<tspan font-family="'Liberation Sans', Arial, sans-serif">s</tspan></text>
<line x1="313.80" y1="281.00" x2="324.60" y2="281.00" stroke="#0a8a0a" stroke-width="2"/>
<text x="328.7" y="283.3" font-size="15" font-weight="bold" font-family="'Liberation Serif', 'Times New Roman', serif" textLength="62.6" lengthAdjust="spacingAndGlyphs" fill="#000" stroke="#000" stroke-width="0.25">Light line</text>
<text x="55.4" y="123.8" font-size="14.6" font-weight="bold" font-family="'Liberation Sans', Arial, sans-serif" text-anchor="end" textLength="22.3" lengthAdjust="spacingAndGlyphs" fill="#000" stroke="#000" stroke-width="0.25">0.0</text>
<text x="55.4" y="93.03333333333333" font-size="14.6" font-weight="bold" font-family="'Liberation Sans', Arial, sans-serif" text-anchor="end" textLength="22.3" lengthAdjust="spacingAndGlyphs" fill="#000" stroke="#000" stroke-width="0.25">0.2</text>
<text x="55.4" y="62.266666666666666" font-size="14.6" font-weight="bold" font-family="'Liberation Sans', Arial, sans-serif" text-anchor="end" textLength="22.3" lengthAdjust="spacingAndGlyphs" fill="#000" stroke="#000" stroke-width="0.25">0.4</text>
<text x="55.4" y="31.5" font-size="14.6" font-weight="bold" font-family="'Liberation Sans', Arial, sans-serif" text-anchor="end" textLength="22.3" lengthAdjust="spacingAndGlyphs" fill="#000" stroke="#000" stroke-width="0.25">0.6</text>
<text x="61.099999999999994" y="133.4" font-size="13.5" font-family="'Liberation Serif', 'Times New Roman', serif" text-anchor="middle" fill="#000">&#915;</text>
<text x="99.8" y="132.6" font-size="12.5" font-weight="bold" font-family="'Liberation Sans', Arial, sans-serif" text-anchor="middle" textLength="11.2" lengthAdjust="spacingAndGlyphs" fill="#000" stroke="#000" stroke-width="0.25">M</text>
<text x="136.8" y="132.6" font-size="12.5" font-weight="bold" font-family="'Liberation Sans', Arial, sans-serif" text-anchor="middle" textLength="10" lengthAdjust="spacingAndGlyphs" fill="#000" stroke="#000" stroke-width="0.25">K</text>
<text x="178.2" y="133.4" font-size="13.5" font-family="'Liberation Serif', 'Times New Roman', serif" text-anchor="middle" fill="#000">&#915;</text>
<text x="205.6" y="123.8" font-size="14.6" font-weight="bold" font-family="'Liberation Sans', Arial, sans-serif" text-anchor="end" textLength="22.3" lengthAdjust="spacingAndGlyphs" fill="#000" stroke="#000" stroke-width="0.25">0.0</text>
<text x="205.6" y="93.03333333333333" font-size="14.6" font-weight="bold" font-family="'Liberation Sans', Arial, sans-serif" text-anchor="end" textLength="22.3" lengthAdjust="spacingAndGlyphs" fill="#000" stroke="#000" stroke-width="0.25">0.2</text>
<text x="205.6" y="62.266666666666666" font-size="14.6" font-weight="bold" font-family="'Liberation Sans', Arial, sans-serif" text-anchor="end" textLength="22.3" lengthAdjust="spacingAndGlyphs" fill="#000" stroke="#000" stroke-width="0.25">0.4</text>
<text x="205.6" y="31.5" font-size="14.6" font-weight="bold" font-family="'Liberation Sans', Arial, sans-serif" text-anchor="end" textLength="22.3" lengthAdjust="spacingAndGlyphs" fill="#000" stroke="#000" stroke-width="0.25">0.6</text>
<text x="209.10000000000002" y="133.4" font-size="13.5" font-family="'Liberation Serif', 'Times New Roman', serif" text-anchor="middle" fill="#000">&#915;</text>
<text x="247.8" y="132.6" font-size="12.5" font-weight="bold" font-family="'Liberation Sans', Arial, sans-serif" text-anchor="middle" textLength="11.2" lengthAdjust="spacingAndGlyphs" fill="#000" stroke="#000" stroke-width="0.25">M</text>
<text x="284.8" y="132.6" font-size="12.5" font-weight="bold" font-family="'Liberation Sans', Arial, sans-serif" text-anchor="middle" textLength="10" lengthAdjust="spacingAndGlyphs" fill="#000" stroke="#000" stroke-width="0.25">K</text>
<text x="327.0" y="133.4" font-size="13.5" font-family="'Liberation Serif', 'Times New Roman', serif" text-anchor="middle" fill="#000">&#915;</text>
<text x="355.3" y="123.8" font-size="14.6" font-weight="bold" font-family="'Liberation Sans', Arial, sans-serif" text-anchor="end" textLength="22.3" lengthAdjust="spacingAndGlyphs" fill="#000" stroke="#000" stroke-width="0.25">0.0</text>
<text x="355.3" y="93.03333333333333" font-size="14.6" font-weight="bold" font-family="'Liberation Sans', Arial, sans-serif" text-anchor="end" textLength="22.3" lengthAdjust="spacingAndGlyphs" fill="#000" stroke="#000" stroke-width="0.25">0.2</text>
<text x="355.3" y="62.266666666666666" font-size="14.6" font-weight="bold" font-family="'Liberation Sans', Arial, sans-serif" text-anchor="end" textLength="22.3" lengthAdjust="spacingAndGlyphs" fill="#000" stroke="#000" stroke-width="0.25">0.4</text>
<text x="355.3" y="31.5" font-size="14.6" font-weight="bold" font-family="'Liberation Sans', Arial, sans-serif" text-anchor="end" textLength="22.3" lengthAdjust="spacingAndGlyphs" fill="#000" stroke="#000" stroke-width="0.25">0.6</text>
<text x="359.0" y="133.4" font-size="13.5" font-family="'Liberation Serif', 'Times New Roman', serif" text-anchor="middle" fill="#000">&#915;</text>
<text x="397.7" y="132.6" font-size="12.5" font-weight="bold" font-family="'Liberation Sans', Arial, sans-serif" text-anchor="middle" textLength="11.2" lengthAdjust="spacingAndGlyphs" fill="#000" stroke="#000" stroke-width="0.25">M</text>
<text x="434.7" y="132.6" font-size="12.5" font-weight="bold" font-family="'Liberation Sans', Arial, sans-serif" text-anchor="middle" textLength="10" lengthAdjust="spacingAndGlyphs" fill="#000" stroke="#000" stroke-width="0.25">K</text>
<text x="476.4" y="133.4" font-size="13.5" font-family="'Liberation Serif', 'Times New Roman', serif" text-anchor="middle" fill="#000">&#915;</text>
<text x="90.7" y="109.9" font-size="13" font-weight="bold" font-family="'Liberation Sans', Arial, sans-serif" textLength="47" lengthAdjust="spacingAndGlyphs" fill="#000" stroke="#000" stroke-width="0.25">r/a-.22</text>
<text x="145.9" y="113.3" font-size="15.5" font-family="'Liberation Sans', Arial, sans-serif" textLength="14" lengthAdjust="spacingAndGlyphs" fill="#000">(i)</text>
<text x="244.2" y="110.2" font-size="13" font-weight="bold" font-family="'Liberation Sans', Arial, sans-serif" textLength="39.4" lengthAdjust="spacingAndGlyphs" fill="#000" stroke="#000" stroke-width="0.25">r/a-.3</text>
<text x="293.3" y="112.2" font-size="15.5" font-family="'Liberation Sans', Arial, sans-serif" textLength="18" lengthAdjust="spacingAndGlyphs" fill="#000">(ii)</text>
<text x="389.6" y="110.2" font-size="13" font-weight="bold" font-family="'Liberation Sans', Arial, sans-serif" textLength="47" lengthAdjust="spacingAndGlyphs" fill="#000" stroke="#000" stroke-width="0.25">r/a-.38</text>
<text x="439.3" y="112.9" font-size="15.5" font-family="'Liberation Sans', Arial, sans-serif" textLength="23.4" lengthAdjust="spacingAndGlyphs" fill="#000">(iii)</text>
<text x="485.6" y="77" font-size="23" font-weight="bold" font-family="'Liberation Sans', Arial, sans-serif" textLength="28.2" lengthAdjust="spacingAndGlyphs" fill="#000" stroke="#000" stroke-width="0.25">(a)</text>
<text x="55.0" y="254.70000000000002" font-size="12.4" font-weight="bold" font-family="'Liberation Sans', Arial, sans-serif" text-anchor="end" textLength="24.4" lengthAdjust="spacingAndGlyphs" fill="#000" stroke="#000" stroke-width="0.25">0.10</text>
<text x="55.0" y="231.75000000000003" font-size="12.4" font-weight="bold" font-family="'Liberation Sans', Arial, sans-serif" text-anchor="end" textLength="24.4" lengthAdjust="spacingAndGlyphs" fill="#000" stroke="#000" stroke-width="0.25">0.15</text>
<text x="55.0" y="208.8" font-size="12.4" font-weight="bold" font-family="'Liberation Sans', Arial, sans-serif" text-anchor="end" textLength="24.4" lengthAdjust="spacingAndGlyphs" fill="#000" stroke="#000" stroke-width="0.25">0.20</text>
<text x="55.0" y="185.85" font-size="12.4" font-weight="bold" font-family="'Liberation Sans', Arial, sans-serif" text-anchor="end" textLength="24.4" lengthAdjust="spacingAndGlyphs" fill="#000" stroke="#000" stroke-width="0.25">0.25</text>
<text x="55.0" y="162.9" font-size="12.4" font-weight="bold" font-family="'Liberation Sans', Arial, sans-serif" text-anchor="end" textLength="24.4" lengthAdjust="spacingAndGlyphs" fill="#000" stroke="#000" stroke-width="0.25">0.30</text>
<text x="59.2" y="266.6" font-size="14" font-weight="bold" font-family="'Liberation Sans', Arial, sans-serif" text-anchor="middle" textLength="19.6" lengthAdjust="spacingAndGlyphs" fill="#000" stroke="#000" stroke-width="0.25">0.2</text>
<text x="99.26666666666668" y="266.6" font-size="14" font-weight="bold" font-family="'Liberation Sans', Arial, sans-serif" text-anchor="middle" textLength="19.6" lengthAdjust="spacingAndGlyphs" fill="#000" stroke="#000" stroke-width="0.25">0.3</text>
<text x="139.33333333333334" y="266.6" font-size="14" font-weight="bold" font-family="'Liberation Sans', Arial, sans-serif" text-anchor="middle" textLength="19.6" lengthAdjust="spacingAndGlyphs" fill="#000" stroke="#000" stroke-width="0.25">0.4</text>
<text x="179.4" y="266.6" font-size="14" font-weight="bold" font-family="'Liberation Sans', Arial, sans-serif" text-anchor="middle" textLength="19.6" lengthAdjust="spacingAndGlyphs" fill="#000" stroke="#000" stroke-width="0.25">0.5</text>
<text x="206.4" y="256.8" font-size="12.4" font-weight="bold" font-family="'Liberation Sans', Arial, sans-serif" text-anchor="end" textLength="24.4" lengthAdjust="spacingAndGlyphs" fill="#000" stroke="#000" stroke-width="0.25">0.10</text>
<text x="206.4" y="233.82500000000002" font-size="12.4" font-weight="bold" font-family="'Liberation Sans', Arial, sans-serif" text-anchor="end" textLength="24.4" lengthAdjust="spacingAndGlyphs" fill="#000" stroke="#000" stroke-width="0.25">0.15</text>
<text x="206.4" y="210.85" font-size="12.4" font-weight="bold" font-family="'Liberation Sans', Arial, sans-serif" text-anchor="end" textLength="24.4" lengthAdjust="spacingAndGlyphs" fill="#000" stroke="#000" stroke-width="0.25">0.20</text>
<text x="206.4" y="187.875" font-size="12.4" font-weight="bold" font-family="'Liberation Sans', Arial, sans-serif" text-anchor="end" textLength="24.4" lengthAdjust="spacingAndGlyphs" fill="#000" stroke="#000" stroke-width="0.25">0.25</text>
<text x="206.4" y="164.9" font-size="12.4" font-weight="bold" font-family="'Liberation Sans', Arial, sans-serif" text-anchor="end" textLength="24.4" lengthAdjust="spacingAndGlyphs" fill="#000" stroke="#000" stroke-width="0.25">0.30</text>
<text x="207.6" y="269.4" font-size="14" font-weight="bold" font-family="'Liberation Sans', Arial, sans-serif" text-anchor="middle" textLength="19.6" lengthAdjust="spacingAndGlyphs" fill="#000" stroke="#000" stroke-width="0.25">0.2</text>
<text x="248.0" y="269.4" font-size="14" font-weight="bold" font-family="'Liberation Sans', Arial, sans-serif" text-anchor="middle" textLength="19.6" lengthAdjust="spacingAndGlyphs" fill="#000" stroke="#000" stroke-width="0.25">0.3</text>
<text x="288.4" y="269.4" font-size="14" font-weight="bold" font-family="'Liberation Sans', Arial, sans-serif" text-anchor="middle" textLength="19.6" lengthAdjust="spacingAndGlyphs" fill="#000" stroke="#000" stroke-width="0.25">0.4</text>
<text x="328.8" y="269.4" font-size="14" font-weight="bold" font-family="'Liberation Sans', Arial, sans-serif" text-anchor="middle" textLength="19.6" lengthAdjust="spacingAndGlyphs" fill="#000" stroke="#000" stroke-width="0.25">0.5</text>
<text x="356.4" y="254.4" font-size="12.4" font-weight="bold" font-family="'Liberation Sans', Arial, sans-serif" text-anchor="end" textLength="24.4" lengthAdjust="spacingAndGlyphs" fill="#000" stroke="#000" stroke-width="0.25">0.10</text>
<text x="356.4" y="231.45000000000002" font-size="12.4" font-weight="bold" font-family="'Liberation Sans', Arial, sans-serif" text-anchor="end" textLength="24.4" lengthAdjust="spacingAndGlyphs" fill="#000" stroke="#000" stroke-width="0.25">0.15</text>
<text x="356.4" y="208.5" font-size="12.4" font-weight="bold" font-family="'Liberation Sans', Arial, sans-serif" text-anchor="end" textLength="24.4" lengthAdjust="spacingAndGlyphs" fill="#000" stroke="#000" stroke-width="0.25">0.20</text>
<text x="356.4" y="185.54999999999998" font-size="12.4" font-weight="bold" font-family="'Liberation Sans', Arial, sans-serif" text-anchor="end" textLength="24.4" lengthAdjust="spacingAndGlyphs" fill="#000" stroke="#000" stroke-width="0.25">0.25</text>
<text x="356.4" y="162.6" font-size="12.4" font-weight="bold" font-family="'Liberation Sans', Arial, sans-serif" text-anchor="end" textLength="24.4" lengthAdjust="spacingAndGlyphs" fill="#000" stroke="#000" stroke-width="0.25">0.30</text>
<text x="357.4" y="267.4" font-size="14" font-weight="bold" font-family="'Liberation Sans', Arial, sans-serif" text-anchor="middle" textLength="19.6" lengthAdjust="spacingAndGlyphs" fill="#000" stroke="#000" stroke-width="0.25">0.2</text>
<text x="397.7" y="267.4" font-size="14" font-weight="bold" font-family="'Liberation Sans', Arial, sans-serif" text-anchor="middle" textLength="19.6" lengthAdjust="spacingAndGlyphs" fill="#000" stroke="#000" stroke-width="0.25">0.3</text>
<text x="438.0" y="267.4" font-size="14" font-weight="bold" font-family="'Liberation Sans', Arial, sans-serif" text-anchor="middle" textLength="19.6" lengthAdjust="spacingAndGlyphs" fill="#000" stroke="#000" stroke-width="0.25">0.4</text>
<text x="478.3" y="267.4" font-size="14" font-weight="bold" font-family="'Liberation Sans', Arial, sans-serif" text-anchor="middle" textLength="19.6" lengthAdjust="spacingAndGlyphs" fill="#000" stroke="#000" stroke-width="0.25">0.5</text>
<text x="104.5" y="243.8" font-size="14" font-weight="bold" font-family="'Liberation Sans', Arial, sans-serif" textLength="47.3" lengthAdjust="spacingAndGlyphs" fill="#000" stroke="#000" stroke-width="0.25">r/a-.22</text>
<text x="162.5" y="242.8" font-size="17.5" font-family="'Liberation Sans', Arial, sans-serif" textLength="15.4" lengthAdjust="spacingAndGlyphs" fill="#000">(i)</text>
<text x="251.2" y="243.0" font-size="14" font-weight="bold" font-family="'Liberation Sans', Arial, sans-serif" textLength="37.3" lengthAdjust="spacingAndGlyphs" fill="#000" stroke="#000" stroke-width="0.25">r/a-.3</text>
<text x="305.0" y="241.9" font-size="16.5" font-family="'Liberation Sans', Arial, sans-serif" textLength="18.5" lengthAdjust="spacingAndGlyphs" fill="#000">(ii)</text>
<text x="393.7" y="240.0" font-size="14" font-weight="bold" font-family="'Liberation Sans', Arial, sans-serif" textLength="47.4" lengthAdjust="spacingAndGlyphs" fill="#000" stroke="#000" stroke-width="0.25">r/a-.38</text>
<text x="453.7" y="241.4" font-size="16.5" font-family="'Liberation Sans', Arial, sans-serif" textLength="22.3" lengthAdjust="spacingAndGlyphs" fill="#000">(iii)</text>
<text x="485.4" y="212.0" font-size="23" font-weight="bold" font-family="'Liberation Sans', Arial, sans-serif" textLength="30" lengthAdjust="spacingAndGlyphs" fill="#000" stroke="#000" stroke-width="0.25">(b)</text>
<text x="55.0" y="392.2" font-size="12.4" font-weight="bold" font-family="'Liberation Sans', Arial, sans-serif" text-anchor="end" textLength="24.4" lengthAdjust="spacingAndGlyphs" fill="#000" stroke="#000" stroke-width="0.25">0.15</text>
<text x="55.0" y="361.46666666666664" font-size="12.4" font-weight="bold" font-family="'Liberation Sans', Arial, sans-serif" text-anchor="end" textLength="24.4" lengthAdjust="spacingAndGlyphs" fill="#000" stroke="#000" stroke-width="0.25">0.20</text>
<text x="55.0" y="330.73333333333335" font-size="12.4" font-weight="bold" font-family="'Liberation Sans', Arial, sans-serif" text-anchor="end" textLength="24.4" lengthAdjust="spacingAndGlyphs" fill="#000" stroke="#000" stroke-width="0.25">0.25</text>
<text x="55.0" y="300.0" font-size="12.4" font-weight="bold" font-family="'Liberation Sans', Arial, sans-serif" text-anchor="end" textLength="24.4" lengthAdjust="spacingAndGlyphs" fill="#000" stroke="#000" stroke-width="0.25">0.30</text>
<text x="59.2" y="404.4" font-size="14" font-weight="bold" font-family="'Liberation Sans', Arial, sans-serif" text-anchor="middle" textLength="19.6" lengthAdjust="spacingAndGlyphs" fill="#000" stroke="#000" stroke-width="0.25">0.2</text>
<text x="99.26666666666668" y="404.4" font-size="14" font-weight="bold" font-family="'Liberation Sans', Arial, sans-serif" text-anchor="middle" textLength="19.6" lengthAdjust="spacingAndGlyphs" fill="#000" stroke="#000" stroke-width="0.25">0.3</text>
<text x="139.33333333333334" y="404.4" font-size="14" font-weight="bold" font-family="'Liberation Sans', Arial, sans-serif" text-anchor="middle" textLength="19.6" lengthAdjust="spacingAndGlyphs" fill="#000" stroke="#000" stroke-width="0.25">0.4</text>
<text x="179.4" y="404.4" font-size="14" font-weight="bold" font-family="'Liberation Sans', Arial, sans-serif" text-anchor="middle" textLength="19.6" lengthAdjust="spacingAndGlyphs" fill="#000" stroke="#000" stroke-width="0.25">0.5</text>
<text x="206.4" y="392.7" font-size="12.4" font-weight="bold" font-family="'Liberation Sans', Arial, sans-serif" text-anchor="end" textLength="24.4" lengthAdjust="spacingAndGlyphs" fill="#000" stroke="#000" stroke-width="0.25">0.15</text>
<text x="206.4" y="361.7" font-size="12.4" font-weight="bold" font-family="'Liberation Sans', Arial, sans-serif" text-anchor="end" textLength="24.4" lengthAdjust="spacingAndGlyphs" fill="#000" stroke="#000" stroke-width="0.25">0.20</text>
<text x="206.4" y="330.7" font-size="12.4" font-weight="bold" font-family="'Liberation Sans', Arial, sans-serif" text-anchor="end" textLength="24.4" lengthAdjust="spacingAndGlyphs" fill="#000" stroke="#000" stroke-width="0.25">0.25</text>
<text x="206.4" y="299.7" font-size="12.4" font-weight="bold" font-family="'Liberation Sans', Arial, sans-serif" text-anchor="end" textLength="24.4" lengthAdjust="spacingAndGlyphs" fill="#000" stroke="#000" stroke-width="0.25">0.30</text>
<text x="207.6" y="404.8" font-size="14" font-weight="bold" font-family="'Liberation Sans', Arial, sans-serif" text-anchor="middle" textLength="19.6" lengthAdjust="spacingAndGlyphs" fill="#000" stroke="#000" stroke-width="0.25">0.2</text>
<text x="247.93333333333334" y="404.8" font-size="14" font-weight="bold" font-family="'Liberation Sans', Arial, sans-serif" text-anchor="middle" textLength="19.6" lengthAdjust="spacingAndGlyphs" fill="#000" stroke="#000" stroke-width="0.25">0.3</text>
<text x="288.26666666666665" y="404.8" font-size="14" font-weight="bold" font-family="'Liberation Sans', Arial, sans-serif" text-anchor="middle" textLength="19.6" lengthAdjust="spacingAndGlyphs" fill="#000" stroke="#000" stroke-width="0.25">0.4</text>
<text x="328.6" y="404.8" font-size="14" font-weight="bold" font-family="'Liberation Sans', Arial, sans-serif" text-anchor="middle" textLength="19.6" lengthAdjust="spacingAndGlyphs" fill="#000" stroke="#000" stroke-width="0.25">0.5</text>
<text x="356.4" y="390.59999999999997" font-size="12.4" font-weight="bold" font-family="'Liberation Sans', Arial, sans-serif" text-anchor="end" textLength="24.4" lengthAdjust="spacingAndGlyphs" fill="#000" stroke="#000" stroke-width="0.25">0.15</text>
<text x="356.4" y="359.66666666666663" font-size="12.4" font-weight="bold" font-family="'Liberation Sans', Arial, sans-serif" text-anchor="end" textLength="24.4" lengthAdjust="spacingAndGlyphs" fill="#000" stroke="#000" stroke-width="0.25">0.20</text>
<text x="356.4" y="328.7333333333333" font-size="12.4" font-weight="bold" font-family="'Liberation Sans', Arial, sans-serif" text-anchor="end" textLength="24.4" lengthAdjust="spacingAndGlyphs" fill="#000" stroke="#000" stroke-width="0.25">0.25</text>
<text x="356.4" y="297.79999999999995" font-size="12.4" font-weight="bold" font-family="'Liberation Sans', Arial, sans-serif" text-anchor="end" textLength="24.4" lengthAdjust="spacingAndGlyphs" fill="#000" stroke="#000" stroke-width="0.25">0.30</text>
<text x="357.3" y="402.9" font-size="14" font-weight="bold" font-family="'Liberation Sans', Arial, sans-serif" text-anchor="middle" textLength="19.6" lengthAdjust="spacingAndGlyphs" fill="#000" stroke="#000" stroke-width="0.25">0.2</text>
<text x="397.73333333333335" y="402.9" font-size="14" font-weight="bold" font-family="'Liberation Sans', Arial, sans-serif" text-anchor="middle" textLength="19.6" lengthAdjust="spacingAndGlyphs" fill="#000" stroke="#000" stroke-width="0.25">0.3</text>
<text x="438.1666666666667" y="402.9" font-size="14" font-weight="bold" font-family="'Liberation Sans', Arial, sans-serif" text-anchor="middle" textLength="19.6" lengthAdjust="spacingAndGlyphs" fill="#000" stroke="#000" stroke-width="0.25">0.4</text>
<text x="478.6" y="402.9" font-size="14" font-weight="bold" font-family="'Liberation Sans', Arial, sans-serif" text-anchor="middle" textLength="19.6" lengthAdjust="spacingAndGlyphs" fill="#000" stroke="#000" stroke-width="0.25">0.5</text>
<text x="104.5" y="380.0" font-size="14" font-weight="bold" font-family="'Liberation Sans', Arial, sans-serif" textLength="47.3" lengthAdjust="spacingAndGlyphs" fill="#000" stroke="#000" stroke-width="0.25">r/a-.22</text>
<text x="161.5" y="378.5" font-size="16.5" font-family="'Liberation Sans', Arial, sans-serif" textLength="15" lengthAdjust="spacingAndGlyphs" fill="#000">(i)</text>
<text x="256.2" y="380.0" font-size="14" font-weight="bold" font-family="'Liberation Sans', Arial, sans-serif" textLength="36" lengthAdjust="spacingAndGlyphs" fill="#000" stroke="#000" stroke-width="0.25">r/a-.3</text>
<text x="303.7" y="378.5" font-size="16.5" font-family="'Liberation Sans', Arial, sans-serif" textLength="18.5" lengthAdjust="spacingAndGlyphs" fill="#000">(ii)</text>
<text x="393.7" y="378.5" font-size="14" font-weight="bold" font-family="'Liberation Sans', Arial, sans-serif" textLength="48.6" lengthAdjust="spacingAndGlyphs" fill="#000" stroke="#000" stroke-width="0.25">r/a-.38</text>
<text x="451.2" y="378.0" font-size="16.5" font-family="'Liberation Sans', Arial, sans-serif" textLength="23.5" lengthAdjust="spacingAndGlyphs" fill="#000">(iii)</text>
<text x="483.4" y="349.0" font-size="23" font-weight="bold" font-family="'Liberation Sans', Arial, sans-serif" textLength="28.8" lengthAdjust="spacingAndGlyphs" fill="#000" stroke="#000" stroke-width="0.25">(c)</text>
<text transform="translate(18.8,393) rotate(-90)" x="0" y="0" font-size="23.3" font-weight="bold" font-family="'Liberation Sans', Arial, sans-serif" textLength="319.5" lengthAdjust="spacingAndGlyphs">Normalized Frequency <tspan font-weight="normal">(</tspan>a/<tspan font-family="'Liberation Serif', 'Times New Roman', serif" font-weight="normal">&#955;</tspan><tspan font-weight="normal">)</tspan></text>
<rect x="14.50" y="17.00" width="3.20" height="51.00" fill="#000"/>
<polygon points="16.10,1.50 24.20,19.80 16.10,16.50 8.00,19.80" fill="#000" stroke="none" stroke-width="0"/>
<text x="93.8" y="424.9" font-size="22" font-weight="bold" font-family="'Liberation Sans', Arial, sans-serif" textLength="146.6" lengthAdjust="spacingAndGlyphs" fill="#000" stroke="#000" stroke-width="0.25">Wave Vector</text>
<text x="242.8" y="424.2" font-size="15.5" font-weight="bold" font-family="'Liberation Sans', Arial, sans-serif" textLength="5.0" lengthAdjust="spacingAndGlyphs" fill="#000" stroke="#000" stroke-width="0.25">(</text>
<text x="246.4" y="424.9" font-size="22" font-weight="bold" font-family="'Liberation Sans', Arial, sans-serif" textLength="52.5" lengthAdjust="spacingAndGlyphs" fill="#000" stroke="#000" stroke-width="0.25">ka/2</text>
<text x="298.2" y="424.9" font-size="19" font-family="'Liberation Serif', 'Times New Roman', serif" textLength="10.8" lengthAdjust="spacingAndGlyphs" fill="#000">&#960;</text>
<text x="309.6" y="424.2" font-size="15.5" font-weight="bold" font-family="'Liberation Sans', Arial, sans-serif" textLength="6.0" lengthAdjust="spacingAndGlyphs" fill="#000" stroke="#000" stroke-width="0.25">)</text>
<rect x="340.20" y="419.00" width="127.00" height="2.20" fill="#000"/>
<polygon points="478.50,420.10 463.00,414.50 466.50,420.10 463.00,425.70" fill="#000" stroke="none" stroke-width="0"/>
</svg>
</body></html>
